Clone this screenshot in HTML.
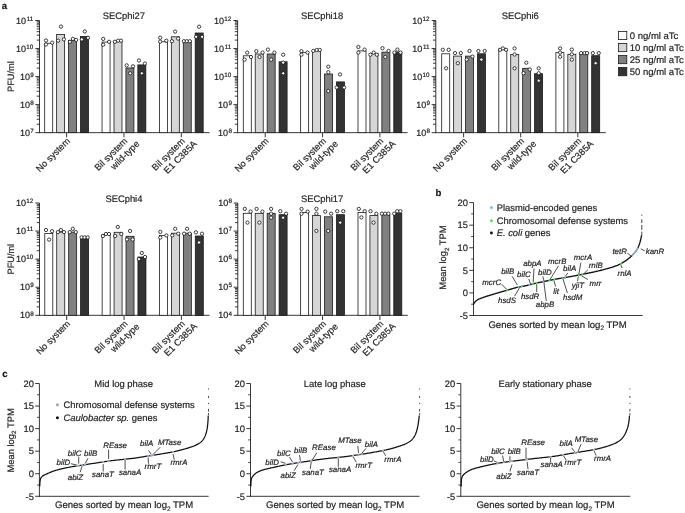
<!DOCTYPE html>
<html><head><meta charset="utf-8"><style>
html,body{margin:0;padding:0;background:#fff;}
body{width:685px;height:513px;overflow:hidden;}
svg text{stroke:#2a2a2a;stroke-width:0.2px;}
svg{display:block;will-change:transform;text-rendering:geometricPrecision;font-family:"Liberation Sans", sans-serif;}
</style></head><body>
<svg width="685" height="513" viewBox="0 0 685 513">
<rect width="685" height="513" fill="#fff"/>
<text x="123.90" y="19.10" font-size="9.4" text-anchor="middle" font-style="normal" font-weight="normal" fill="#222" >SECphi27</text>
<line x1="39.50" y1="20.50" x2="39.50" y2="133.10" stroke="#222" stroke-width="0.9"/>
<line x1="35.30" y1="20.50" x2="39.50" y2="20.50" stroke="#222" stroke-width="0.9"/>
<text x="26.02" y="23.50" font-size="9" text-anchor="end" fill="#222">10</text>
<text x="33.20" y="20.70" font-size="6.3" text-anchor="end" fill="#222">11</text>
<line x1="36.70" y1="40.10" x2="39.50" y2="40.10" stroke="#222" stroke-width="0.9"/>
<line x1="36.70" y1="35.16" x2="39.50" y2="35.16" stroke="#222" stroke-width="0.9"/>
<line x1="36.70" y1="31.66" x2="39.50" y2="31.66" stroke="#222" stroke-width="0.9"/>
<line x1="36.70" y1="28.94" x2="39.50" y2="28.94" stroke="#222" stroke-width="0.9"/>
<line x1="36.70" y1="26.72" x2="39.50" y2="26.72" stroke="#222" stroke-width="0.9"/>
<line x1="36.70" y1="24.84" x2="39.50" y2="24.84" stroke="#222" stroke-width="0.9"/>
<line x1="36.70" y1="23.22" x2="39.50" y2="23.22" stroke="#222" stroke-width="0.9"/>
<line x1="36.70" y1="21.78" x2="39.50" y2="21.78" stroke="#222" stroke-width="0.9"/>
<line x1="35.30" y1="48.54" x2="39.50" y2="48.54" stroke="#222" stroke-width="0.9"/>
<text x="26.02" y="51.54" font-size="9" text-anchor="end" fill="#222">10</text>
<text x="33.20" y="48.74" font-size="6.3" text-anchor="end" fill="#222">10</text>
<line x1="36.70" y1="68.13" x2="39.50" y2="68.13" stroke="#222" stroke-width="0.9"/>
<line x1="36.70" y1="63.20" x2="39.50" y2="63.20" stroke="#222" stroke-width="0.9"/>
<line x1="36.70" y1="59.69" x2="39.50" y2="59.69" stroke="#222" stroke-width="0.9"/>
<line x1="36.70" y1="56.98" x2="39.50" y2="56.98" stroke="#222" stroke-width="0.9"/>
<line x1="36.70" y1="54.76" x2="39.50" y2="54.76" stroke="#222" stroke-width="0.9"/>
<line x1="36.70" y1="52.88" x2="39.50" y2="52.88" stroke="#222" stroke-width="0.9"/>
<line x1="36.70" y1="51.25" x2="39.50" y2="51.25" stroke="#222" stroke-width="0.9"/>
<line x1="36.70" y1="49.82" x2="39.50" y2="49.82" stroke="#222" stroke-width="0.9"/>
<line x1="35.30" y1="76.58" x2="39.50" y2="76.58" stroke="#222" stroke-width="0.9"/>
<text x="29.91" y="79.58" font-size="9" text-anchor="end" fill="#222">10</text>
<text x="33.80" y="76.78" font-size="6.3" text-anchor="end" fill="#222">9</text>
<line x1="36.70" y1="96.17" x2="39.50" y2="96.17" stroke="#222" stroke-width="0.9"/>
<line x1="36.70" y1="91.24" x2="39.50" y2="91.24" stroke="#222" stroke-width="0.9"/>
<line x1="36.70" y1="87.73" x2="39.50" y2="87.73" stroke="#222" stroke-width="0.9"/>
<line x1="36.70" y1="85.02" x2="39.50" y2="85.02" stroke="#222" stroke-width="0.9"/>
<line x1="36.70" y1="82.80" x2="39.50" y2="82.80" stroke="#222" stroke-width="0.9"/>
<line x1="36.70" y1="80.92" x2="39.50" y2="80.92" stroke="#222" stroke-width="0.9"/>
<line x1="36.70" y1="79.29" x2="39.50" y2="79.29" stroke="#222" stroke-width="0.9"/>
<line x1="36.70" y1="77.86" x2="39.50" y2="77.86" stroke="#222" stroke-width="0.9"/>
<line x1="35.30" y1="104.61" x2="39.50" y2="104.61" stroke="#222" stroke-width="0.9"/>
<text x="29.91" y="107.61" font-size="9" text-anchor="end" fill="#222">10</text>
<text x="33.80" y="104.81" font-size="6.3" text-anchor="end" fill="#222">8</text>
<line x1="36.70" y1="124.21" x2="39.50" y2="124.21" stroke="#222" stroke-width="0.9"/>
<line x1="36.70" y1="119.27" x2="39.50" y2="119.27" stroke="#222" stroke-width="0.9"/>
<line x1="36.70" y1="115.77" x2="39.50" y2="115.77" stroke="#222" stroke-width="0.9"/>
<line x1="36.70" y1="113.05" x2="39.50" y2="113.05" stroke="#222" stroke-width="0.9"/>
<line x1="36.70" y1="110.83" x2="39.50" y2="110.83" stroke="#222" stroke-width="0.9"/>
<line x1="36.70" y1="108.96" x2="39.50" y2="108.96" stroke="#222" stroke-width="0.9"/>
<line x1="36.70" y1="107.33" x2="39.50" y2="107.33" stroke="#222" stroke-width="0.9"/>
<line x1="36.70" y1="105.90" x2="39.50" y2="105.90" stroke="#222" stroke-width="0.9"/>
<line x1="35.30" y1="132.65" x2="39.50" y2="132.65" stroke="#222" stroke-width="0.9"/>
<text x="29.91" y="135.65" font-size="9" text-anchor="end" fill="#222">10</text>
<text x="33.80" y="132.85" font-size="6.3" text-anchor="end" fill="#222">7</text>
<line x1="39.05" y1="132.65" x2="209.50" y2="132.65" stroke="#222" stroke-width="0.9"/>
<rect x="44.70" y="43.30" width="8.0" height="89.35" fill="#ffffff" stroke="#1a1a1a" stroke-width="0.8"/>
<rect x="56.63" y="34.50" width="8.0" height="98.15" fill="#d6d6d6" stroke="#1a1a1a" stroke-width="0.8"/>
<rect x="68.56" y="40.50" width="8.0" height="92.15" fill="#808080" stroke="#1a1a1a" stroke-width="0.8"/>
<rect x="80.49" y="36.50" width="8.0" height="96.15" fill="#333333" stroke="#1a1a1a" stroke-width="0.8"/>
<line x1="66.60" y1="132.65" x2="66.60" y2="137.35" stroke="#222" stroke-width="0.9"/>
<rect x="102.05" y="42.10" width="8.0" height="90.55" fill="#ffffff" stroke="#1a1a1a" stroke-width="0.8"/>
<rect x="113.98" y="41.20" width="8.0" height="91.45" fill="#d6d6d6" stroke="#1a1a1a" stroke-width="0.8"/>
<rect x="125.91" y="68.00" width="8.0" height="64.65" fill="#808080" stroke="#1a1a1a" stroke-width="0.8"/>
<rect x="137.84" y="64.90" width="8.0" height="67.75" fill="#333333" stroke="#1a1a1a" stroke-width="0.8"/>
<line x1="123.95" y1="132.65" x2="123.95" y2="137.35" stroke="#222" stroke-width="0.9"/>
<rect x="159.40" y="41.80" width="8.0" height="90.85" fill="#ffffff" stroke="#1a1a1a" stroke-width="0.8"/>
<rect x="171.33" y="36.80" width="8.0" height="95.85" fill="#d6d6d6" stroke="#1a1a1a" stroke-width="0.8"/>
<rect x="183.26" y="41.20" width="8.0" height="91.45" fill="#808080" stroke="#1a1a1a" stroke-width="0.8"/>
<rect x="195.19" y="33.00" width="8.0" height="99.65" fill="#333333" stroke="#1a1a1a" stroke-width="0.8"/>
<line x1="181.30" y1="132.65" x2="181.30" y2="137.35" stroke="#222" stroke-width="0.9"/>
<circle cx="46.00" cy="40.50" r="1.65" fill="#fff" stroke="#111" stroke-width="0.8"/>
<circle cx="46.00" cy="44.50" r="1.65" fill="#fff" stroke="#111" stroke-width="0.8"/>
<circle cx="52.20" cy="42.70" r="1.65" fill="#fff" stroke="#111" stroke-width="0.8"/>
<circle cx="61.00" cy="26.60" r="1.65" fill="#fff" stroke="#111" stroke-width="0.8"/>
<circle cx="58.10" cy="40.70" r="1.65" fill="#fff" stroke="#111" stroke-width="0.8"/>
<circle cx="63.90" cy="39.40" r="1.65" fill="#fff" stroke="#111" stroke-width="0.8"/>
<circle cx="69.90" cy="41.80" r="1.65" fill="#fff" stroke="#111" stroke-width="0.8"/>
<circle cx="72.90" cy="38.90" r="1.65" fill="#fff" stroke="#111" stroke-width="0.8"/>
<circle cx="76.10" cy="39.90" r="1.65" fill="#fff" stroke="#111" stroke-width="0.8"/>
<circle cx="84.80" cy="31.50" r="1.65" fill="#fff" stroke="#111" stroke-width="0.8"/>
<circle cx="81.80" cy="39.40" r="1.65" fill="#fff" stroke="#111" stroke-width="0.8"/>
<circle cx="88.00" cy="37.80" r="1.65" fill="#fff" stroke="#111" stroke-width="0.8"/>
<circle cx="103.20" cy="38.90" r="1.65" fill="#fff" stroke="#111" stroke-width="0.8"/>
<circle cx="103.20" cy="44.70" r="1.65" fill="#fff" stroke="#111" stroke-width="0.8"/>
<circle cx="109.10" cy="41.80" r="1.65" fill="#fff" stroke="#111" stroke-width="0.8"/>
<circle cx="114.90" cy="41.80" r="1.65" fill="#fff" stroke="#111" stroke-width="0.8"/>
<circle cx="118.10" cy="40.70" r="1.65" fill="#fff" stroke="#111" stroke-width="0.8"/>
<circle cx="121.00" cy="40.70" r="1.65" fill="#fff" stroke="#111" stroke-width="0.8"/>
<circle cx="126.70" cy="65.40" r="1.65" fill="#fff" stroke="#111" stroke-width="0.8"/>
<circle cx="130.20" cy="73.30" r="1.65" fill="#fff" stroke="#111" stroke-width="0.8"/>
<circle cx="133.00" cy="66.30" r="1.65" fill="#fff" stroke="#111" stroke-width="0.8"/>
<circle cx="139.00" cy="60.50" r="1.65" fill="#fff" stroke="#111" stroke-width="0.8"/>
<circle cx="141.80" cy="73.30" r="1.65" fill="#fff" stroke="#111" stroke-width="0.8"/>
<circle cx="144.90" cy="63.50" r="1.65" fill="#fff" stroke="#111" stroke-width="0.8"/>
<circle cx="160.20" cy="37.70" r="1.65" fill="#fff" stroke="#111" stroke-width="0.8"/>
<circle cx="160.20" cy="41.60" r="1.65" fill="#fff" stroke="#111" stroke-width="0.8"/>
<circle cx="166.30" cy="40.70" r="1.65" fill="#fff" stroke="#111" stroke-width="0.8"/>
<circle cx="175.10" cy="31.60" r="1.65" fill="#fff" stroke="#111" stroke-width="0.8"/>
<circle cx="171.90" cy="41.20" r="1.65" fill="#fff" stroke="#111" stroke-width="0.8"/>
<circle cx="178.10" cy="38.60" r="1.65" fill="#fff" stroke="#111" stroke-width="0.8"/>
<circle cx="183.90" cy="41.20" r="1.65" fill="#fff" stroke="#111" stroke-width="0.8"/>
<circle cx="186.80" cy="41.20" r="1.65" fill="#fff" stroke="#111" stroke-width="0.8"/>
<circle cx="189.80" cy="41.20" r="1.65" fill="#fff" stroke="#111" stroke-width="0.8"/>
<circle cx="199.10" cy="26.70" r="1.65" fill="#fff" stroke="#111" stroke-width="0.8"/>
<circle cx="196.10" cy="36.80" r="1.65" fill="#fff" stroke="#111" stroke-width="0.8"/>
<circle cx="202.10" cy="36.80" r="1.65" fill="#fff" stroke="#111" stroke-width="0.8"/>
<text transform="translate(70.70,141.55) rotate(-45)" font-size="9.25" text-anchor="end" fill="#222">No system</text>
<text transform="translate(128.05,141.55) rotate(-45)" font-size="9.25" text-anchor="end" fill="#222">Bil system</text>
<text transform="translate(140.05,144.35) rotate(-45)" font-size="9.25" text-anchor="end" fill="#222">wild-type</text>
<text transform="translate(185.40,141.55) rotate(-45)" font-size="9.25" text-anchor="end" fill="#222">Bil system</text>
<text transform="translate(197.40,144.35) rotate(-45)" font-size="9.25" text-anchor="end" fill="#222">E1 C385A</text>
<text transform="translate(13.60,76.58) rotate(-90)" font-size="9.2" text-anchor="middle" fill="#222">PFU/ml</text>
<text x="322.00" y="19.10" font-size="9.4" text-anchor="middle" font-style="normal" font-weight="normal" fill="#222" >SECphi18</text>
<line x1="237.60" y1="20.50" x2="237.60" y2="133.10" stroke="#222" stroke-width="0.9"/>
<line x1="233.40" y1="20.50" x2="237.60" y2="20.50" stroke="#222" stroke-width="0.9"/>
<text x="224.12" y="23.50" font-size="9" text-anchor="end" fill="#222">10</text>
<text x="231.30" y="20.70" font-size="6.3" text-anchor="end" fill="#222">12</text>
<line x1="234.80" y1="40.10" x2="237.60" y2="40.10" stroke="#222" stroke-width="0.9"/>
<line x1="234.80" y1="35.16" x2="237.60" y2="35.16" stroke="#222" stroke-width="0.9"/>
<line x1="234.80" y1="31.66" x2="237.60" y2="31.66" stroke="#222" stroke-width="0.9"/>
<line x1="234.80" y1="28.94" x2="237.60" y2="28.94" stroke="#222" stroke-width="0.9"/>
<line x1="234.80" y1="26.72" x2="237.60" y2="26.72" stroke="#222" stroke-width="0.9"/>
<line x1="234.80" y1="24.84" x2="237.60" y2="24.84" stroke="#222" stroke-width="0.9"/>
<line x1="234.80" y1="23.22" x2="237.60" y2="23.22" stroke="#222" stroke-width="0.9"/>
<line x1="234.80" y1="21.78" x2="237.60" y2="21.78" stroke="#222" stroke-width="0.9"/>
<line x1="233.40" y1="48.54" x2="237.60" y2="48.54" stroke="#222" stroke-width="0.9"/>
<text x="224.12" y="51.54" font-size="9" text-anchor="end" fill="#222">10</text>
<text x="231.30" y="48.74" font-size="6.3" text-anchor="end" fill="#222">11</text>
<line x1="234.80" y1="68.13" x2="237.60" y2="68.13" stroke="#222" stroke-width="0.9"/>
<line x1="234.80" y1="63.20" x2="237.60" y2="63.20" stroke="#222" stroke-width="0.9"/>
<line x1="234.80" y1="59.69" x2="237.60" y2="59.69" stroke="#222" stroke-width="0.9"/>
<line x1="234.80" y1="56.98" x2="237.60" y2="56.98" stroke="#222" stroke-width="0.9"/>
<line x1="234.80" y1="54.76" x2="237.60" y2="54.76" stroke="#222" stroke-width="0.9"/>
<line x1="234.80" y1="52.88" x2="237.60" y2="52.88" stroke="#222" stroke-width="0.9"/>
<line x1="234.80" y1="51.25" x2="237.60" y2="51.25" stroke="#222" stroke-width="0.9"/>
<line x1="234.80" y1="49.82" x2="237.60" y2="49.82" stroke="#222" stroke-width="0.9"/>
<line x1="233.40" y1="76.58" x2="237.60" y2="76.58" stroke="#222" stroke-width="0.9"/>
<text x="224.12" y="79.58" font-size="9" text-anchor="end" fill="#222">10</text>
<text x="231.30" y="76.78" font-size="6.3" text-anchor="end" fill="#222">10</text>
<line x1="234.80" y1="96.17" x2="237.60" y2="96.17" stroke="#222" stroke-width="0.9"/>
<line x1="234.80" y1="91.24" x2="237.60" y2="91.24" stroke="#222" stroke-width="0.9"/>
<line x1="234.80" y1="87.73" x2="237.60" y2="87.73" stroke="#222" stroke-width="0.9"/>
<line x1="234.80" y1="85.02" x2="237.60" y2="85.02" stroke="#222" stroke-width="0.9"/>
<line x1="234.80" y1="82.80" x2="237.60" y2="82.80" stroke="#222" stroke-width="0.9"/>
<line x1="234.80" y1="80.92" x2="237.60" y2="80.92" stroke="#222" stroke-width="0.9"/>
<line x1="234.80" y1="79.29" x2="237.60" y2="79.29" stroke="#222" stroke-width="0.9"/>
<line x1="234.80" y1="77.86" x2="237.60" y2="77.86" stroke="#222" stroke-width="0.9"/>
<line x1="233.40" y1="104.61" x2="237.60" y2="104.61" stroke="#222" stroke-width="0.9"/>
<text x="228.01" y="107.61" font-size="9" text-anchor="end" fill="#222">10</text>
<text x="231.90" y="104.81" font-size="6.3" text-anchor="end" fill="#222">9</text>
<line x1="234.80" y1="124.21" x2="237.60" y2="124.21" stroke="#222" stroke-width="0.9"/>
<line x1="234.80" y1="119.27" x2="237.60" y2="119.27" stroke="#222" stroke-width="0.9"/>
<line x1="234.80" y1="115.77" x2="237.60" y2="115.77" stroke="#222" stroke-width="0.9"/>
<line x1="234.80" y1="113.05" x2="237.60" y2="113.05" stroke="#222" stroke-width="0.9"/>
<line x1="234.80" y1="110.83" x2="237.60" y2="110.83" stroke="#222" stroke-width="0.9"/>
<line x1="234.80" y1="108.96" x2="237.60" y2="108.96" stroke="#222" stroke-width="0.9"/>
<line x1="234.80" y1="107.33" x2="237.60" y2="107.33" stroke="#222" stroke-width="0.9"/>
<line x1="234.80" y1="105.90" x2="237.60" y2="105.90" stroke="#222" stroke-width="0.9"/>
<line x1="233.40" y1="132.65" x2="237.60" y2="132.65" stroke="#222" stroke-width="0.9"/>
<text x="228.01" y="135.65" font-size="9" text-anchor="end" fill="#222">10</text>
<text x="231.90" y="132.85" font-size="6.3" text-anchor="end" fill="#222">8</text>
<line x1="237.15" y1="132.65" x2="407.60" y2="132.65" stroke="#222" stroke-width="0.9"/>
<rect x="243.30" y="55.80" width="8.0" height="76.85" fill="#ffffff" stroke="#1a1a1a" stroke-width="0.8"/>
<rect x="255.23" y="54.00" width="8.0" height="78.65" fill="#d6d6d6" stroke="#1a1a1a" stroke-width="0.8"/>
<rect x="267.16" y="54.00" width="8.0" height="78.65" fill="#808080" stroke="#1a1a1a" stroke-width="0.8"/>
<rect x="279.09" y="61.80" width="8.0" height="70.85" fill="#333333" stroke="#1a1a1a" stroke-width="0.8"/>
<line x1="265.20" y1="132.65" x2="265.20" y2="137.35" stroke="#222" stroke-width="0.9"/>
<rect x="300.65" y="52.60" width="8.0" height="80.05" fill="#ffffff" stroke="#1a1a1a" stroke-width="0.8"/>
<rect x="312.58" y="50.90" width="8.0" height="81.75" fill="#d6d6d6" stroke="#1a1a1a" stroke-width="0.8"/>
<rect x="324.51" y="74.00" width="8.0" height="58.65" fill="#808080" stroke="#1a1a1a" stroke-width="0.8"/>
<rect x="336.44" y="81.90" width="8.0" height="50.75" fill="#333333" stroke="#1a1a1a" stroke-width="0.8"/>
<line x1="322.55" y1="132.65" x2="322.55" y2="137.35" stroke="#222" stroke-width="0.9"/>
<rect x="358.00" y="50.90" width="8.0" height="81.75" fill="#ffffff" stroke="#1a1a1a" stroke-width="0.8"/>
<rect x="369.93" y="53.50" width="8.0" height="79.15" fill="#d6d6d6" stroke="#1a1a1a" stroke-width="0.8"/>
<rect x="381.86" y="52.10" width="8.0" height="80.55" fill="#808080" stroke="#1a1a1a" stroke-width="0.8"/>
<rect x="393.79" y="52.10" width="8.0" height="80.55" fill="#333333" stroke="#1a1a1a" stroke-width="0.8"/>
<line x1="379.90" y1="132.65" x2="379.90" y2="137.35" stroke="#222" stroke-width="0.9"/>
<circle cx="244.60" cy="59.60" r="1.65" fill="#fff" stroke="#111" stroke-width="0.8"/>
<circle cx="247.20" cy="52.60" r="1.65" fill="#fff" stroke="#111" stroke-width="0.8"/>
<circle cx="251.00" cy="57.00" r="1.65" fill="#fff" stroke="#111" stroke-width="0.8"/>
<circle cx="256.30" cy="51.20" r="1.65" fill="#fff" stroke="#111" stroke-width="0.8"/>
<circle cx="259.50" cy="57.00" r="1.65" fill="#fff" stroke="#111" stroke-width="0.8"/>
<circle cx="262.60" cy="52.60" r="1.65" fill="#fff" stroke="#111" stroke-width="0.8"/>
<circle cx="267.90" cy="49.60" r="1.65" fill="#fff" stroke="#111" stroke-width="0.8"/>
<circle cx="271.20" cy="59.60" r="1.65" fill="#fff" stroke="#111" stroke-width="0.8"/>
<circle cx="274.40" cy="52.60" r="1.65" fill="#fff" stroke="#111" stroke-width="0.8"/>
<circle cx="283.20" cy="54.70" r="1.65" fill="#fff" stroke="#111" stroke-width="0.8"/>
<circle cx="283.20" cy="62.60" r="1.65" fill="#fff" stroke="#111" stroke-width="0.8"/>
<circle cx="283.20" cy="73.30" r="1.65" fill="#fff" stroke="#111" stroke-width="0.8"/>
<circle cx="301.40" cy="51.20" r="1.65" fill="#fff" stroke="#111" stroke-width="0.8"/>
<circle cx="301.40" cy="54.70" r="1.65" fill="#fff" stroke="#111" stroke-width="0.8"/>
<circle cx="307.50" cy="52.60" r="1.65" fill="#fff" stroke="#111" stroke-width="0.8"/>
<circle cx="313.30" cy="50.90" r="1.65" fill="#fff" stroke="#111" stroke-width="0.8"/>
<circle cx="316.70" cy="50.00" r="1.65" fill="#fff" stroke="#111" stroke-width="0.8"/>
<circle cx="319.80" cy="50.00" r="1.65" fill="#fff" stroke="#111" stroke-width="0.8"/>
<circle cx="328.30" cy="66.70" r="1.65" fill="#fff" stroke="#111" stroke-width="0.8"/>
<circle cx="328.30" cy="72.20" r="1.65" fill="#fff" stroke="#111" stroke-width="0.8"/>
<circle cx="328.30" cy="91.10" r="1.65" fill="#fff" stroke="#111" stroke-width="0.8"/>
<circle cx="340.00" cy="74.40" r="1.65" fill="#fff" stroke="#111" stroke-width="0.8"/>
<circle cx="336.70" cy="87.50" r="1.65" fill="#fff" stroke="#111" stroke-width="0.8"/>
<circle cx="344.20" cy="87.50" r="1.65" fill="#fff" stroke="#111" stroke-width="0.8"/>
<circle cx="358.40" cy="47.00" r="1.65" fill="#fff" stroke="#111" stroke-width="0.8"/>
<circle cx="358.40" cy="52.60" r="1.65" fill="#fff" stroke="#111" stroke-width="0.8"/>
<circle cx="364.60" cy="49.60" r="1.65" fill="#fff" stroke="#111" stroke-width="0.8"/>
<circle cx="370.40" cy="54.70" r="1.65" fill="#fff" stroke="#111" stroke-width="0.8"/>
<circle cx="373.70" cy="52.60" r="1.65" fill="#fff" stroke="#111" stroke-width="0.8"/>
<circle cx="376.80" cy="54.70" r="1.65" fill="#fff" stroke="#111" stroke-width="0.8"/>
<circle cx="382.50" cy="48.20" r="1.65" fill="#fff" stroke="#111" stroke-width="0.8"/>
<circle cx="385.30" cy="57.00" r="1.65" fill="#fff" stroke="#111" stroke-width="0.8"/>
<circle cx="388.60" cy="50.90" r="1.65" fill="#fff" stroke="#111" stroke-width="0.8"/>
<circle cx="394.40" cy="52.60" r="1.65" fill="#fff" stroke="#111" stroke-width="0.8"/>
<circle cx="397.40" cy="49.60" r="1.65" fill="#fff" stroke="#111" stroke-width="0.8"/>
<circle cx="400.50" cy="52.60" r="1.65" fill="#fff" stroke="#111" stroke-width="0.8"/>
<text transform="translate(269.30,141.55) rotate(-45)" font-size="9.25" text-anchor="end" fill="#222">No system</text>
<text transform="translate(326.65,141.55) rotate(-45)" font-size="9.25" text-anchor="end" fill="#222">Bil system</text>
<text transform="translate(338.65,144.35) rotate(-45)" font-size="9.25" text-anchor="end" fill="#222">wild-type</text>
<text transform="translate(384.00,141.55) rotate(-45)" font-size="9.25" text-anchor="end" fill="#222">Bil system</text>
<text transform="translate(396.00,144.35) rotate(-45)" font-size="9.25" text-anchor="end" fill="#222">E1 C385A</text>
<text x="520.20" y="19.10" font-size="9.4" text-anchor="middle" font-style="normal" font-weight="normal" fill="#222" >SECphi6</text>
<line x1="435.80" y1="20.50" x2="435.80" y2="133.10" stroke="#222" stroke-width="0.9"/>
<line x1="431.60" y1="20.50" x2="435.80" y2="20.50" stroke="#222" stroke-width="0.9"/>
<text x="422.32" y="23.50" font-size="9" text-anchor="end" fill="#222">10</text>
<text x="429.50" y="20.70" font-size="6.3" text-anchor="end" fill="#222">12</text>
<line x1="433.00" y1="40.10" x2="435.80" y2="40.10" stroke="#222" stroke-width="0.9"/>
<line x1="433.00" y1="35.16" x2="435.80" y2="35.16" stroke="#222" stroke-width="0.9"/>
<line x1="433.00" y1="31.66" x2="435.80" y2="31.66" stroke="#222" stroke-width="0.9"/>
<line x1="433.00" y1="28.94" x2="435.80" y2="28.94" stroke="#222" stroke-width="0.9"/>
<line x1="433.00" y1="26.72" x2="435.80" y2="26.72" stroke="#222" stroke-width="0.9"/>
<line x1="433.00" y1="24.84" x2="435.80" y2="24.84" stroke="#222" stroke-width="0.9"/>
<line x1="433.00" y1="23.22" x2="435.80" y2="23.22" stroke="#222" stroke-width="0.9"/>
<line x1="433.00" y1="21.78" x2="435.80" y2="21.78" stroke="#222" stroke-width="0.9"/>
<line x1="431.60" y1="48.54" x2="435.80" y2="48.54" stroke="#222" stroke-width="0.9"/>
<text x="422.32" y="51.54" font-size="9" text-anchor="end" fill="#222">10</text>
<text x="429.50" y="48.74" font-size="6.3" text-anchor="end" fill="#222">11</text>
<line x1="433.00" y1="68.13" x2="435.80" y2="68.13" stroke="#222" stroke-width="0.9"/>
<line x1="433.00" y1="63.20" x2="435.80" y2="63.20" stroke="#222" stroke-width="0.9"/>
<line x1="433.00" y1="59.69" x2="435.80" y2="59.69" stroke="#222" stroke-width="0.9"/>
<line x1="433.00" y1="56.98" x2="435.80" y2="56.98" stroke="#222" stroke-width="0.9"/>
<line x1="433.00" y1="54.76" x2="435.80" y2="54.76" stroke="#222" stroke-width="0.9"/>
<line x1="433.00" y1="52.88" x2="435.80" y2="52.88" stroke="#222" stroke-width="0.9"/>
<line x1="433.00" y1="51.25" x2="435.80" y2="51.25" stroke="#222" stroke-width="0.9"/>
<line x1="433.00" y1="49.82" x2="435.80" y2="49.82" stroke="#222" stroke-width="0.9"/>
<line x1="431.60" y1="76.58" x2="435.80" y2="76.58" stroke="#222" stroke-width="0.9"/>
<text x="422.32" y="79.58" font-size="9" text-anchor="end" fill="#222">10</text>
<text x="429.50" y="76.78" font-size="6.3" text-anchor="end" fill="#222">10</text>
<line x1="433.00" y1="96.17" x2="435.80" y2="96.17" stroke="#222" stroke-width="0.9"/>
<line x1="433.00" y1="91.24" x2="435.80" y2="91.24" stroke="#222" stroke-width="0.9"/>
<line x1="433.00" y1="87.73" x2="435.80" y2="87.73" stroke="#222" stroke-width="0.9"/>
<line x1="433.00" y1="85.02" x2="435.80" y2="85.02" stroke="#222" stroke-width="0.9"/>
<line x1="433.00" y1="82.80" x2="435.80" y2="82.80" stroke="#222" stroke-width="0.9"/>
<line x1="433.00" y1="80.92" x2="435.80" y2="80.92" stroke="#222" stroke-width="0.9"/>
<line x1="433.00" y1="79.29" x2="435.80" y2="79.29" stroke="#222" stroke-width="0.9"/>
<line x1="433.00" y1="77.86" x2="435.80" y2="77.86" stroke="#222" stroke-width="0.9"/>
<line x1="431.60" y1="104.61" x2="435.80" y2="104.61" stroke="#222" stroke-width="0.9"/>
<text x="426.21" y="107.61" font-size="9" text-anchor="end" fill="#222">10</text>
<text x="430.10" y="104.81" font-size="6.3" text-anchor="end" fill="#222">9</text>
<line x1="433.00" y1="124.21" x2="435.80" y2="124.21" stroke="#222" stroke-width="0.9"/>
<line x1="433.00" y1="119.27" x2="435.80" y2="119.27" stroke="#222" stroke-width="0.9"/>
<line x1="433.00" y1="115.77" x2="435.80" y2="115.77" stroke="#222" stroke-width="0.9"/>
<line x1="433.00" y1="113.05" x2="435.80" y2="113.05" stroke="#222" stroke-width="0.9"/>
<line x1="433.00" y1="110.83" x2="435.80" y2="110.83" stroke="#222" stroke-width="0.9"/>
<line x1="433.00" y1="108.96" x2="435.80" y2="108.96" stroke="#222" stroke-width="0.9"/>
<line x1="433.00" y1="107.33" x2="435.80" y2="107.33" stroke="#222" stroke-width="0.9"/>
<line x1="433.00" y1="105.90" x2="435.80" y2="105.90" stroke="#222" stroke-width="0.9"/>
<line x1="431.60" y1="132.65" x2="435.80" y2="132.65" stroke="#222" stroke-width="0.9"/>
<text x="426.21" y="135.65" font-size="9" text-anchor="end" fill="#222">10</text>
<text x="430.10" y="132.85" font-size="6.3" text-anchor="end" fill="#222">8</text>
<line x1="435.35" y1="132.65" x2="605.80" y2="132.65" stroke="#222" stroke-width="0.9"/>
<rect x="441.70" y="53.80" width="8.0" height="78.85" fill="#ffffff" stroke="#1a1a1a" stroke-width="0.8"/>
<rect x="453.63" y="56.10" width="8.0" height="76.55" fill="#d6d6d6" stroke="#1a1a1a" stroke-width="0.8"/>
<rect x="465.56" y="56.10" width="8.0" height="76.55" fill="#808080" stroke="#1a1a1a" stroke-width="0.8"/>
<rect x="477.49" y="53.80" width="8.0" height="78.85" fill="#333333" stroke="#1a1a1a" stroke-width="0.8"/>
<line x1="463.60" y1="132.65" x2="463.60" y2="137.35" stroke="#222" stroke-width="0.9"/>
<rect x="498.80" y="49.10" width="8.0" height="83.55" fill="#ffffff" stroke="#1a1a1a" stroke-width="0.8"/>
<rect x="510.73" y="54.50" width="8.0" height="78.15" fill="#d6d6d6" stroke="#1a1a1a" stroke-width="0.8"/>
<rect x="522.66" y="68.30" width="8.0" height="64.35" fill="#808080" stroke="#1a1a1a" stroke-width="0.8"/>
<rect x="534.59" y="73.70" width="8.0" height="58.95" fill="#333333" stroke="#1a1a1a" stroke-width="0.8"/>
<line x1="520.70" y1="132.65" x2="520.70" y2="137.35" stroke="#222" stroke-width="0.9"/>
<rect x="555.90" y="52.60" width="8.0" height="80.05" fill="#ffffff" stroke="#1a1a1a" stroke-width="0.8"/>
<rect x="567.83" y="54.30" width="8.0" height="78.35" fill="#d6d6d6" stroke="#1a1a1a" stroke-width="0.8"/>
<rect x="579.76" y="53.80" width="8.0" height="78.85" fill="#808080" stroke="#1a1a1a" stroke-width="0.8"/>
<rect x="591.69" y="55.70" width="8.0" height="76.95" fill="#333333" stroke="#1a1a1a" stroke-width="0.8"/>
<line x1="577.80" y1="132.65" x2="577.80" y2="137.35" stroke="#222" stroke-width="0.9"/>
<circle cx="442.80" cy="49.80" r="1.65" fill="#fff" stroke="#111" stroke-width="0.8"/>
<circle cx="448.70" cy="49.80" r="1.65" fill="#fff" stroke="#111" stroke-width="0.8"/>
<circle cx="446.10" cy="68.30" r="1.65" fill="#fff" stroke="#111" stroke-width="0.8"/>
<circle cx="455.00" cy="53.10" r="1.65" fill="#fff" stroke="#111" stroke-width="0.8"/>
<circle cx="460.80" cy="53.10" r="1.65" fill="#fff" stroke="#111" stroke-width="0.8"/>
<circle cx="457.80" cy="63.20" r="1.65" fill="#fff" stroke="#111" stroke-width="0.8"/>
<circle cx="466.70" cy="59.60" r="1.65" fill="#fff" stroke="#111" stroke-width="0.8"/>
<circle cx="469.50" cy="51.00" r="1.65" fill="#fff" stroke="#111" stroke-width="0.8"/>
<circle cx="472.50" cy="56.60" r="1.65" fill="#fff" stroke="#111" stroke-width="0.8"/>
<circle cx="478.40" cy="51.00" r="1.65" fill="#fff" stroke="#111" stroke-width="0.8"/>
<circle cx="484.70" cy="51.00" r="1.65" fill="#fff" stroke="#111" stroke-width="0.8"/>
<circle cx="481.40" cy="59.60" r="1.65" fill="#fff" stroke="#111" stroke-width="0.8"/>
<circle cx="500.10" cy="49.80" r="1.65" fill="#fff" stroke="#111" stroke-width="0.8"/>
<circle cx="502.90" cy="48.40" r="1.65" fill="#fff" stroke="#111" stroke-width="0.8"/>
<circle cx="506.00" cy="49.80" r="1.65" fill="#fff" stroke="#111" stroke-width="0.8"/>
<circle cx="514.60" cy="48.40" r="1.65" fill="#fff" stroke="#111" stroke-width="0.8"/>
<circle cx="514.60" cy="54.50" r="1.65" fill="#fff" stroke="#111" stroke-width="0.8"/>
<circle cx="514.60" cy="68.30" r="1.65" fill="#fff" stroke="#111" stroke-width="0.8"/>
<circle cx="526.30" cy="62.70" r="1.65" fill="#fff" stroke="#111" stroke-width="0.8"/>
<circle cx="523.50" cy="73.20" r="1.65" fill="#fff" stroke="#111" stroke-width="0.8"/>
<circle cx="529.80" cy="69.50" r="1.65" fill="#fff" stroke="#111" stroke-width="0.8"/>
<circle cx="538.70" cy="68.30" r="1.65" fill="#fff" stroke="#111" stroke-width="0.8"/>
<circle cx="538.70" cy="73.20" r="1.65" fill="#fff" stroke="#111" stroke-width="0.8"/>
<circle cx="538.70" cy="80.70" r="1.65" fill="#fff" stroke="#111" stroke-width="0.8"/>
<circle cx="560.10" cy="48.40" r="1.65" fill="#fff" stroke="#111" stroke-width="0.8"/>
<circle cx="560.10" cy="52.60" r="1.65" fill="#fff" stroke="#111" stroke-width="0.8"/>
<circle cx="560.10" cy="56.80" r="1.65" fill="#fff" stroke="#111" stroke-width="0.8"/>
<circle cx="571.80" cy="49.60" r="1.65" fill="#fff" stroke="#111" stroke-width="0.8"/>
<circle cx="571.80" cy="54.30" r="1.65" fill="#fff" stroke="#111" stroke-width="0.8"/>
<circle cx="571.80" cy="59.60" r="1.65" fill="#fff" stroke="#111" stroke-width="0.8"/>
<circle cx="581.10" cy="53.10" r="1.65" fill="#fff" stroke="#111" stroke-width="0.8"/>
<circle cx="584.60" cy="53.10" r="1.65" fill="#fff" stroke="#111" stroke-width="0.8"/>
<circle cx="587.00" cy="53.10" r="1.65" fill="#fff" stroke="#111" stroke-width="0.8"/>
<circle cx="592.80" cy="53.10" r="1.65" fill="#fff" stroke="#111" stroke-width="0.8"/>
<circle cx="598.70" cy="53.10" r="1.65" fill="#fff" stroke="#111" stroke-width="0.8"/>
<circle cx="595.60" cy="63.20" r="1.65" fill="#fff" stroke="#111" stroke-width="0.8"/>
<text transform="translate(467.70,141.55) rotate(-45)" font-size="9.25" text-anchor="end" fill="#222">No system</text>
<text transform="translate(524.80,141.55) rotate(-45)" font-size="9.25" text-anchor="end" fill="#222">Bil system</text>
<text transform="translate(536.80,144.35) rotate(-45)" font-size="9.25" text-anchor="end" fill="#222">wild-type</text>
<text transform="translate(581.90,141.55) rotate(-45)" font-size="9.25" text-anchor="end" fill="#222">Bil system</text>
<text transform="translate(593.90,144.35) rotate(-45)" font-size="9.25" text-anchor="end" fill="#222">E1 C385A</text>
<text x="123.90" y="202.30" font-size="9.4" text-anchor="middle" font-style="normal" font-weight="normal" fill="#222" >SECphi4</text>
<line x1="39.50" y1="203.00" x2="39.50" y2="315.75" stroke="#222" stroke-width="0.9"/>
<line x1="35.30" y1="203.00" x2="39.50" y2="203.00" stroke="#222" stroke-width="0.9"/>
<text x="26.02" y="206.00" font-size="9" text-anchor="end" fill="#222">10</text>
<text x="33.20" y="203.20" font-size="6.3" text-anchor="end" fill="#222">12</text>
<line x1="36.70" y1="222.62" x2="39.50" y2="222.62" stroke="#222" stroke-width="0.9"/>
<line x1="36.70" y1="217.68" x2="39.50" y2="217.68" stroke="#222" stroke-width="0.9"/>
<line x1="36.70" y1="214.17" x2="39.50" y2="214.17" stroke="#222" stroke-width="0.9"/>
<line x1="36.70" y1="211.45" x2="39.50" y2="211.45" stroke="#222" stroke-width="0.9"/>
<line x1="36.70" y1="209.23" x2="39.50" y2="209.23" stroke="#222" stroke-width="0.9"/>
<line x1="36.70" y1="207.35" x2="39.50" y2="207.35" stroke="#222" stroke-width="0.9"/>
<line x1="36.70" y1="205.72" x2="39.50" y2="205.72" stroke="#222" stroke-width="0.9"/>
<line x1="36.70" y1="204.28" x2="39.50" y2="204.28" stroke="#222" stroke-width="0.9"/>
<line x1="35.30" y1="231.07" x2="39.50" y2="231.07" stroke="#222" stroke-width="0.9"/>
<text x="26.02" y="234.07" font-size="9" text-anchor="end" fill="#222">10</text>
<text x="33.20" y="231.27" font-size="6.3" text-anchor="end" fill="#222">11</text>
<line x1="36.70" y1="250.70" x2="39.50" y2="250.70" stroke="#222" stroke-width="0.9"/>
<line x1="36.70" y1="245.75" x2="39.50" y2="245.75" stroke="#222" stroke-width="0.9"/>
<line x1="36.70" y1="242.25" x2="39.50" y2="242.25" stroke="#222" stroke-width="0.9"/>
<line x1="36.70" y1="239.53" x2="39.50" y2="239.53" stroke="#222" stroke-width="0.9"/>
<line x1="36.70" y1="237.30" x2="39.50" y2="237.30" stroke="#222" stroke-width="0.9"/>
<line x1="36.70" y1="235.42" x2="39.50" y2="235.42" stroke="#222" stroke-width="0.9"/>
<line x1="36.70" y1="233.80" x2="39.50" y2="233.80" stroke="#222" stroke-width="0.9"/>
<line x1="36.70" y1="232.36" x2="39.50" y2="232.36" stroke="#222" stroke-width="0.9"/>
<line x1="35.30" y1="259.15" x2="39.50" y2="259.15" stroke="#222" stroke-width="0.9"/>
<text x="26.02" y="262.15" font-size="9" text-anchor="end" fill="#222">10</text>
<text x="33.20" y="259.35" font-size="6.3" text-anchor="end" fill="#222">10</text>
<line x1="36.70" y1="278.77" x2="39.50" y2="278.77" stroke="#222" stroke-width="0.9"/>
<line x1="36.70" y1="273.83" x2="39.50" y2="273.83" stroke="#222" stroke-width="0.9"/>
<line x1="36.70" y1="270.32" x2="39.50" y2="270.32" stroke="#222" stroke-width="0.9"/>
<line x1="36.70" y1="267.60" x2="39.50" y2="267.60" stroke="#222" stroke-width="0.9"/>
<line x1="36.70" y1="265.38" x2="39.50" y2="265.38" stroke="#222" stroke-width="0.9"/>
<line x1="36.70" y1="263.50" x2="39.50" y2="263.50" stroke="#222" stroke-width="0.9"/>
<line x1="36.70" y1="261.87" x2="39.50" y2="261.87" stroke="#222" stroke-width="0.9"/>
<line x1="36.70" y1="260.43" x2="39.50" y2="260.43" stroke="#222" stroke-width="0.9"/>
<line x1="35.30" y1="287.23" x2="39.50" y2="287.23" stroke="#222" stroke-width="0.9"/>
<text x="29.91" y="290.23" font-size="9" text-anchor="end" fill="#222">10</text>
<text x="33.80" y="287.43" font-size="6.3" text-anchor="end" fill="#222">9</text>
<line x1="36.70" y1="306.85" x2="39.50" y2="306.85" stroke="#222" stroke-width="0.9"/>
<line x1="36.70" y1="301.90" x2="39.50" y2="301.90" stroke="#222" stroke-width="0.9"/>
<line x1="36.70" y1="298.40" x2="39.50" y2="298.40" stroke="#222" stroke-width="0.9"/>
<line x1="36.70" y1="295.68" x2="39.50" y2="295.68" stroke="#222" stroke-width="0.9"/>
<line x1="36.70" y1="293.45" x2="39.50" y2="293.45" stroke="#222" stroke-width="0.9"/>
<line x1="36.70" y1="291.57" x2="39.50" y2="291.57" stroke="#222" stroke-width="0.9"/>
<line x1="36.70" y1="289.95" x2="39.50" y2="289.95" stroke="#222" stroke-width="0.9"/>
<line x1="36.70" y1="288.51" x2="39.50" y2="288.51" stroke="#222" stroke-width="0.9"/>
<line x1="35.30" y1="315.30" x2="39.50" y2="315.30" stroke="#222" stroke-width="0.9"/>
<text x="29.91" y="318.30" font-size="9" text-anchor="end" fill="#222">10</text>
<text x="33.80" y="315.50" font-size="6.3" text-anchor="end" fill="#222">8</text>
<line x1="39.05" y1="315.30" x2="209.50" y2="315.30" stroke="#222" stroke-width="0.9"/>
<rect x="44.80" y="233.50" width="8.0" height="81.80" fill="#ffffff" stroke="#1a1a1a" stroke-width="0.8"/>
<rect x="56.73" y="232.10" width="8.0" height="83.20" fill="#d6d6d6" stroke="#1a1a1a" stroke-width="0.8"/>
<rect x="68.66" y="232.10" width="8.0" height="83.20" fill="#808080" stroke="#1a1a1a" stroke-width="0.8"/>
<rect x="80.59" y="237.40" width="8.0" height="77.90" fill="#333333" stroke="#1a1a1a" stroke-width="0.8"/>
<line x1="66.70" y1="315.30" x2="66.70" y2="320.00" stroke="#222" stroke-width="0.9"/>
<rect x="102.15" y="234.60" width="8.0" height="80.70" fill="#ffffff" stroke="#1a1a1a" stroke-width="0.8"/>
<rect x="114.08" y="232.30" width="8.0" height="83.00" fill="#d6d6d6" stroke="#1a1a1a" stroke-width="0.8"/>
<rect x="126.01" y="236.30" width="8.0" height="79.00" fill="#808080" stroke="#1a1a1a" stroke-width="0.8"/>
<rect x="137.94" y="257.00" width="8.0" height="58.30" fill="#333333" stroke="#1a1a1a" stroke-width="0.8"/>
<line x1="124.05" y1="315.30" x2="124.05" y2="320.00" stroke="#222" stroke-width="0.9"/>
<rect x="159.50" y="235.40" width="8.0" height="79.90" fill="#ffffff" stroke="#1a1a1a" stroke-width="0.8"/>
<rect x="171.43" y="233.20" width="8.0" height="82.10" fill="#d6d6d6" stroke="#1a1a1a" stroke-width="0.8"/>
<rect x="183.36" y="233.20" width="8.0" height="82.10" fill="#808080" stroke="#1a1a1a" stroke-width="0.8"/>
<rect x="195.29" y="236.00" width="8.0" height="79.30" fill="#333333" stroke="#1a1a1a" stroke-width="0.8"/>
<line x1="181.40" y1="315.30" x2="181.40" y2="320.00" stroke="#222" stroke-width="0.9"/>
<circle cx="46.00" cy="230.00" r="1.65" fill="#fff" stroke="#111" stroke-width="0.8"/>
<circle cx="52.10" cy="231.20" r="1.65" fill="#fff" stroke="#111" stroke-width="0.8"/>
<circle cx="49.10" cy="239.60" r="1.65" fill="#fff" stroke="#111" stroke-width="0.8"/>
<circle cx="57.90" cy="232.10" r="1.65" fill="#fff" stroke="#111" stroke-width="0.8"/>
<circle cx="60.90" cy="230.00" r="1.65" fill="#fff" stroke="#111" stroke-width="0.8"/>
<circle cx="64.00" cy="232.10" r="1.65" fill="#fff" stroke="#111" stroke-width="0.8"/>
<circle cx="69.80" cy="232.10" r="1.65" fill="#fff" stroke="#111" stroke-width="0.8"/>
<circle cx="72.80" cy="228.80" r="1.65" fill="#fff" stroke="#111" stroke-width="0.8"/>
<circle cx="75.80" cy="232.10" r="1.65" fill="#fff" stroke="#111" stroke-width="0.8"/>
<circle cx="81.60" cy="237.40" r="1.65" fill="#fff" stroke="#111" stroke-width="0.8"/>
<circle cx="84.60" cy="237.40" r="1.65" fill="#fff" stroke="#111" stroke-width="0.8"/>
<circle cx="87.70" cy="237.40" r="1.65" fill="#fff" stroke="#111" stroke-width="0.8"/>
<circle cx="102.90" cy="236.00" r="1.65" fill="#fff" stroke="#111" stroke-width="0.8"/>
<circle cx="105.90" cy="234.00" r="1.65" fill="#fff" stroke="#111" stroke-width="0.8"/>
<circle cx="109.00" cy="234.00" r="1.65" fill="#fff" stroke="#111" stroke-width="0.8"/>
<circle cx="117.80" cy="227.00" r="1.65" fill="#fff" stroke="#111" stroke-width="0.8"/>
<circle cx="115.20" cy="236.00" r="1.65" fill="#fff" stroke="#111" stroke-width="0.8"/>
<circle cx="121.30" cy="234.00" r="1.65" fill="#fff" stroke="#111" stroke-width="0.8"/>
<circle cx="130.10" cy="231.00" r="1.65" fill="#fff" stroke="#111" stroke-width="0.8"/>
<circle cx="127.00" cy="239.50" r="1.65" fill="#fff" stroke="#111" stroke-width="0.8"/>
<circle cx="132.70" cy="239.50" r="1.65" fill="#fff" stroke="#111" stroke-width="0.8"/>
<circle cx="141.80" cy="253.00" r="1.65" fill="#fff" stroke="#111" stroke-width="0.8"/>
<circle cx="138.90" cy="259.10" r="1.65" fill="#fff" stroke="#111" stroke-width="0.8"/>
<circle cx="145.00" cy="257.00" r="1.65" fill="#fff" stroke="#111" stroke-width="0.8"/>
<circle cx="160.30" cy="231.90" r="1.65" fill="#fff" stroke="#111" stroke-width="0.8"/>
<circle cx="160.30" cy="237.50" r="1.65" fill="#fff" stroke="#111" stroke-width="0.8"/>
<circle cx="166.40" cy="235.40" r="1.65" fill="#fff" stroke="#111" stroke-width="0.8"/>
<circle cx="175.20" cy="228.80" r="1.65" fill="#fff" stroke="#111" stroke-width="0.8"/>
<circle cx="172.20" cy="235.40" r="1.65" fill="#fff" stroke="#111" stroke-width="0.8"/>
<circle cx="178.30" cy="233.70" r="1.65" fill="#fff" stroke="#111" stroke-width="0.8"/>
<circle cx="187.10" cy="228.80" r="1.65" fill="#fff" stroke="#111" stroke-width="0.8"/>
<circle cx="184.10" cy="233.70" r="1.65" fill="#fff" stroke="#111" stroke-width="0.8"/>
<circle cx="189.70" cy="233.70" r="1.65" fill="#fff" stroke="#111" stroke-width="0.8"/>
<circle cx="195.90" cy="232.30" r="1.65" fill="#fff" stroke="#111" stroke-width="0.8"/>
<circle cx="202.00" cy="233.70" r="1.65" fill="#fff" stroke="#111" stroke-width="0.8"/>
<circle cx="199.00" cy="242.50" r="1.65" fill="#fff" stroke="#111" stroke-width="0.8"/>
<text transform="translate(70.80,324.20) rotate(-45)" font-size="9.25" text-anchor="end" fill="#222">No system</text>
<text transform="translate(128.15,324.20) rotate(-45)" font-size="9.25" text-anchor="end" fill="#222">Bil system</text>
<text transform="translate(140.15,327.00) rotate(-45)" font-size="9.25" text-anchor="end" fill="#222">wild-type</text>
<text transform="translate(185.50,324.20) rotate(-45)" font-size="9.25" text-anchor="end" fill="#222">Bil system</text>
<text transform="translate(197.50,327.00) rotate(-45)" font-size="9.25" text-anchor="end" fill="#222">E1 C385A</text>
<text transform="translate(13.60,259.15) rotate(-90)" font-size="9.2" text-anchor="middle" fill="#222">PFU/ml</text>
<text x="322.20" y="202.30" font-size="9.4" text-anchor="middle" font-style="normal" font-weight="normal" fill="#222" >SECphi17</text>
<line x1="237.80" y1="203.00" x2="237.80" y2="315.75" stroke="#222" stroke-width="0.9"/>
<line x1="233.60" y1="203.00" x2="237.80" y2="203.00" stroke="#222" stroke-width="0.9"/>
<text x="228.21" y="206.00" font-size="9" text-anchor="end" fill="#222">10</text>
<text x="232.10" y="203.20" font-size="6.3" text-anchor="end" fill="#222">8</text>
<line x1="235.00" y1="222.62" x2="237.80" y2="222.62" stroke="#222" stroke-width="0.9"/>
<line x1="235.00" y1="217.68" x2="237.80" y2="217.68" stroke="#222" stroke-width="0.9"/>
<line x1="235.00" y1="214.17" x2="237.80" y2="214.17" stroke="#222" stroke-width="0.9"/>
<line x1="235.00" y1="211.45" x2="237.80" y2="211.45" stroke="#222" stroke-width="0.9"/>
<line x1="235.00" y1="209.23" x2="237.80" y2="209.23" stroke="#222" stroke-width="0.9"/>
<line x1="235.00" y1="207.35" x2="237.80" y2="207.35" stroke="#222" stroke-width="0.9"/>
<line x1="235.00" y1="205.72" x2="237.80" y2="205.72" stroke="#222" stroke-width="0.9"/>
<line x1="235.00" y1="204.28" x2="237.80" y2="204.28" stroke="#222" stroke-width="0.9"/>
<line x1="233.60" y1="231.07" x2="237.80" y2="231.07" stroke="#222" stroke-width="0.9"/>
<text x="228.21" y="234.07" font-size="9" text-anchor="end" fill="#222">10</text>
<text x="232.10" y="231.27" font-size="6.3" text-anchor="end" fill="#222">7</text>
<line x1="235.00" y1="250.70" x2="237.80" y2="250.70" stroke="#222" stroke-width="0.9"/>
<line x1="235.00" y1="245.75" x2="237.80" y2="245.75" stroke="#222" stroke-width="0.9"/>
<line x1="235.00" y1="242.25" x2="237.80" y2="242.25" stroke="#222" stroke-width="0.9"/>
<line x1="235.00" y1="239.53" x2="237.80" y2="239.53" stroke="#222" stroke-width="0.9"/>
<line x1="235.00" y1="237.30" x2="237.80" y2="237.30" stroke="#222" stroke-width="0.9"/>
<line x1="235.00" y1="235.42" x2="237.80" y2="235.42" stroke="#222" stroke-width="0.9"/>
<line x1="235.00" y1="233.80" x2="237.80" y2="233.80" stroke="#222" stroke-width="0.9"/>
<line x1="235.00" y1="232.36" x2="237.80" y2="232.36" stroke="#222" stroke-width="0.9"/>
<line x1="233.60" y1="259.15" x2="237.80" y2="259.15" stroke="#222" stroke-width="0.9"/>
<text x="228.21" y="262.15" font-size="9" text-anchor="end" fill="#222">10</text>
<text x="232.10" y="259.35" font-size="6.3" text-anchor="end" fill="#222">6</text>
<line x1="235.00" y1="278.77" x2="237.80" y2="278.77" stroke="#222" stroke-width="0.9"/>
<line x1="235.00" y1="273.83" x2="237.80" y2="273.83" stroke="#222" stroke-width="0.9"/>
<line x1="235.00" y1="270.32" x2="237.80" y2="270.32" stroke="#222" stroke-width="0.9"/>
<line x1="235.00" y1="267.60" x2="237.80" y2="267.60" stroke="#222" stroke-width="0.9"/>
<line x1="235.00" y1="265.38" x2="237.80" y2="265.38" stroke="#222" stroke-width="0.9"/>
<line x1="235.00" y1="263.50" x2="237.80" y2="263.50" stroke="#222" stroke-width="0.9"/>
<line x1="235.00" y1="261.87" x2="237.80" y2="261.87" stroke="#222" stroke-width="0.9"/>
<line x1="235.00" y1="260.43" x2="237.80" y2="260.43" stroke="#222" stroke-width="0.9"/>
<line x1="233.60" y1="287.23" x2="237.80" y2="287.23" stroke="#222" stroke-width="0.9"/>
<text x="228.21" y="290.23" font-size="9" text-anchor="end" fill="#222">10</text>
<text x="232.10" y="287.43" font-size="6.3" text-anchor="end" fill="#222">5</text>
<line x1="235.00" y1="306.85" x2="237.80" y2="306.85" stroke="#222" stroke-width="0.9"/>
<line x1="235.00" y1="301.90" x2="237.80" y2="301.90" stroke="#222" stroke-width="0.9"/>
<line x1="235.00" y1="298.40" x2="237.80" y2="298.40" stroke="#222" stroke-width="0.9"/>
<line x1="235.00" y1="295.68" x2="237.80" y2="295.68" stroke="#222" stroke-width="0.9"/>
<line x1="235.00" y1="293.45" x2="237.80" y2="293.45" stroke="#222" stroke-width="0.9"/>
<line x1="235.00" y1="291.57" x2="237.80" y2="291.57" stroke="#222" stroke-width="0.9"/>
<line x1="235.00" y1="289.95" x2="237.80" y2="289.95" stroke="#222" stroke-width="0.9"/>
<line x1="235.00" y1="288.51" x2="237.80" y2="288.51" stroke="#222" stroke-width="0.9"/>
<line x1="233.60" y1="315.30" x2="237.80" y2="315.30" stroke="#222" stroke-width="0.9"/>
<text x="228.21" y="318.30" font-size="9" text-anchor="end" fill="#222">10</text>
<text x="232.10" y="315.50" font-size="6.3" text-anchor="end" fill="#222">4</text>
<line x1="237.35" y1="315.30" x2="407.80" y2="315.30" stroke="#222" stroke-width="0.9"/>
<rect x="243.30" y="213.30" width="8.0" height="102.00" fill="#ffffff" stroke="#1a1a1a" stroke-width="0.8"/>
<rect x="255.23" y="213.30" width="8.0" height="102.00" fill="#d6d6d6" stroke="#1a1a1a" stroke-width="0.8"/>
<rect x="267.16" y="213.30" width="8.0" height="102.00" fill="#808080" stroke="#1a1a1a" stroke-width="0.8"/>
<rect x="279.09" y="214.70" width="8.0" height="100.60" fill="#333333" stroke="#1a1a1a" stroke-width="0.8"/>
<line x1="265.20" y1="315.30" x2="265.20" y2="320.00" stroke="#222" stroke-width="0.9"/>
<rect x="300.65" y="212.50" width="8.0" height="102.80" fill="#ffffff" stroke="#1a1a1a" stroke-width="0.8"/>
<rect x="312.58" y="215.60" width="8.0" height="99.70" fill="#d6d6d6" stroke="#1a1a1a" stroke-width="0.8"/>
<rect x="324.51" y="216.80" width="8.0" height="98.50" fill="#808080" stroke="#1a1a1a" stroke-width="0.8"/>
<rect x="336.44" y="214.70" width="8.0" height="100.60" fill="#333333" stroke="#1a1a1a" stroke-width="0.8"/>
<line x1="322.55" y1="315.30" x2="322.55" y2="320.00" stroke="#222" stroke-width="0.9"/>
<rect x="358.00" y="212.50" width="8.0" height="102.80" fill="#ffffff" stroke="#1a1a1a" stroke-width="0.8"/>
<rect x="369.93" y="215.60" width="8.0" height="99.70" fill="#d6d6d6" stroke="#1a1a1a" stroke-width="0.8"/>
<rect x="381.86" y="214.70" width="8.0" height="100.60" fill="#808080" stroke="#1a1a1a" stroke-width="0.8"/>
<rect x="393.79" y="213.30" width="8.0" height="102.00" fill="#333333" stroke="#1a1a1a" stroke-width="0.8"/>
<line x1="379.90" y1="315.30" x2="379.90" y2="320.00" stroke="#222" stroke-width="0.9"/>
<circle cx="244.80" cy="208.90" r="1.65" fill="#fff" stroke="#111" stroke-width="0.8"/>
<circle cx="250.60" cy="211.60" r="1.65" fill="#fff" stroke="#111" stroke-width="0.8"/>
<circle cx="247.50" cy="222.60" r="1.65" fill="#fff" stroke="#111" stroke-width="0.8"/>
<circle cx="256.60" cy="208.90" r="1.65" fill="#fff" stroke="#111" stroke-width="0.8"/>
<circle cx="262.40" cy="211.60" r="1.65" fill="#fff" stroke="#111" stroke-width="0.8"/>
<circle cx="259.40" cy="222.60" r="1.65" fill="#fff" stroke="#111" stroke-width="0.8"/>
<circle cx="271.10" cy="208.90" r="1.65" fill="#fff" stroke="#111" stroke-width="0.8"/>
<circle cx="271.10" cy="213.70" r="1.65" fill="#fff" stroke="#111" stroke-width="0.8"/>
<circle cx="271.10" cy="217.70" r="1.65" fill="#fff" stroke="#111" stroke-width="0.8"/>
<circle cx="280.30" cy="211.20" r="1.65" fill="#fff" stroke="#111" stroke-width="0.8"/>
<circle cx="286.10" cy="213.70" r="1.65" fill="#fff" stroke="#111" stroke-width="0.8"/>
<circle cx="283.10" cy="217.70" r="1.65" fill="#fff" stroke="#111" stroke-width="0.8"/>
<circle cx="301.50" cy="208.90" r="1.65" fill="#fff" stroke="#111" stroke-width="0.8"/>
<circle cx="301.50" cy="213.70" r="1.65" fill="#fff" stroke="#111" stroke-width="0.8"/>
<circle cx="307.60" cy="211.60" r="1.65" fill="#fff" stroke="#111" stroke-width="0.8"/>
<circle cx="316.40" cy="208.90" r="1.65" fill="#fff" stroke="#111" stroke-width="0.8"/>
<circle cx="316.40" cy="213.70" r="1.65" fill="#fff" stroke="#111" stroke-width="0.8"/>
<circle cx="316.40" cy="230.90" r="1.65" fill="#fff" stroke="#111" stroke-width="0.8"/>
<circle cx="325.20" cy="211.60" r="1.65" fill="#fff" stroke="#111" stroke-width="0.8"/>
<circle cx="331.10" cy="213.70" r="1.65" fill="#fff" stroke="#111" stroke-width="0.8"/>
<circle cx="328.20" cy="230.90" r="1.65" fill="#fff" stroke="#111" stroke-width="0.8"/>
<circle cx="337.20" cy="211.20" r="1.65" fill="#fff" stroke="#111" stroke-width="0.8"/>
<circle cx="343.30" cy="211.20" r="1.65" fill="#fff" stroke="#111" stroke-width="0.8"/>
<circle cx="340.20" cy="222.60" r="1.65" fill="#fff" stroke="#111" stroke-width="0.8"/>
<circle cx="358.80" cy="208.90" r="1.65" fill="#fff" stroke="#111" stroke-width="0.8"/>
<circle cx="364.70" cy="211.20" r="1.65" fill="#fff" stroke="#111" stroke-width="0.8"/>
<circle cx="361.40" cy="217.40" r="1.65" fill="#fff" stroke="#111" stroke-width="0.8"/>
<circle cx="370.50" cy="211.20" r="1.65" fill="#fff" stroke="#111" stroke-width="0.8"/>
<circle cx="376.30" cy="213.70" r="1.65" fill="#fff" stroke="#111" stroke-width="0.8"/>
<circle cx="373.50" cy="222.60" r="1.65" fill="#fff" stroke="#111" stroke-width="0.8"/>
<circle cx="381.90" cy="213.70" r="1.65" fill="#fff" stroke="#111" stroke-width="0.8"/>
<circle cx="385.10" cy="213.70" r="1.65" fill="#fff" stroke="#111" stroke-width="0.8"/>
<circle cx="388.40" cy="213.70" r="1.65" fill="#fff" stroke="#111" stroke-width="0.8"/>
<circle cx="394.20" cy="213.70" r="1.65" fill="#fff" stroke="#111" stroke-width="0.8"/>
<circle cx="397.20" cy="211.20" r="1.65" fill="#fff" stroke="#111" stroke-width="0.8"/>
<circle cx="400.40" cy="211.20" r="1.65" fill="#fff" stroke="#111" stroke-width="0.8"/>
<text transform="translate(269.30,324.20) rotate(-45)" font-size="9.25" text-anchor="end" fill="#222">No system</text>
<text transform="translate(326.65,324.20) rotate(-45)" font-size="9.25" text-anchor="end" fill="#222">Bil system</text>
<text transform="translate(338.65,327.00) rotate(-45)" font-size="9.25" text-anchor="end" fill="#222">wild-type</text>
<text transform="translate(384.00,324.20) rotate(-45)" font-size="9.25" text-anchor="end" fill="#222">Bil system</text>
<text transform="translate(396.00,327.00) rotate(-45)" font-size="9.25" text-anchor="end" fill="#222">E1 C385A</text>
<rect x="618.6" y="31.40" width="8.2" height="8.2" fill="#ffffff" stroke="#1a1a1a" stroke-width="0.8"/>
<text x="629.80" y="38.80" font-size="9.5" text-anchor="start" font-style="normal" font-weight="normal" fill="#222" >0 ng/ml aTc</text>
<rect x="618.6" y="43.45" width="8.2" height="8.2" fill="#d6d6d6" stroke="#1a1a1a" stroke-width="0.8"/>
<text x="629.80" y="50.85" font-size="9.5" text-anchor="start" font-style="normal" font-weight="normal" fill="#222" >10 ng/ml aTc</text>
<rect x="618.6" y="55.50" width="8.2" height="8.2" fill="#808080" stroke="#1a1a1a" stroke-width="0.8"/>
<text x="629.80" y="62.90" font-size="9.5" text-anchor="start" font-style="normal" font-weight="normal" fill="#222" >25 ng/ml aTc</text>
<rect x="618.6" y="67.55" width="8.2" height="8.2" fill="#333333" stroke="#1a1a1a" stroke-width="0.8"/>
<text x="629.80" y="74.95" font-size="9.5" text-anchor="start" font-style="normal" font-weight="normal" fill="#222" >50 ng/ml aTc</text>
<text x="1.80" y="8.70" font-size="9.6" text-anchor="start" font-style="normal" font-weight="bold" fill="#111" >a</text>
<text x="435.60" y="196.10" font-size="9.6" text-anchor="start" font-style="normal" font-weight="bold" fill="#111" >b</text>
<text x="2.20" y="376.80" font-size="9.6" text-anchor="start" font-style="normal" font-weight="bold" fill="#111" >c</text>
<line x1="473.50" y1="202.60" x2="473.50" y2="315.95" stroke="#222" stroke-width="0.9"/>
<line x1="469.30" y1="202.60" x2="473.50" y2="202.60" stroke="#222" stroke-width="0.9"/>
<text x="468.00" y="205.90" font-size="9.4" text-anchor="end" font-style="normal" font-weight="normal" fill="#222" >20</text>
<line x1="471.10" y1="213.89" x2="473.50" y2="213.89" stroke="#222" stroke-width="0.8"/>
<line x1="469.30" y1="225.18" x2="473.50" y2="225.18" stroke="#222" stroke-width="0.9"/>
<text x="468.00" y="228.48" font-size="9.4" text-anchor="end" font-style="normal" font-weight="normal" fill="#222" >15</text>
<line x1="471.10" y1="236.47" x2="473.50" y2="236.47" stroke="#222" stroke-width="0.8"/>
<line x1="469.30" y1="247.76" x2="473.50" y2="247.76" stroke="#222" stroke-width="0.9"/>
<text x="468.00" y="251.06" font-size="9.4" text-anchor="end" font-style="normal" font-weight="normal" fill="#222" >10</text>
<line x1="471.10" y1="259.05" x2="473.50" y2="259.05" stroke="#222" stroke-width="0.8"/>
<line x1="469.30" y1="270.34" x2="473.50" y2="270.34" stroke="#222" stroke-width="0.9"/>
<text x="468.00" y="273.64" font-size="9.4" text-anchor="end" font-style="normal" font-weight="normal" fill="#222" >5</text>
<line x1="471.10" y1="281.63" x2="473.50" y2="281.63" stroke="#222" stroke-width="0.8"/>
<line x1="469.30" y1="292.92" x2="473.50" y2="292.92" stroke="#222" stroke-width="0.9"/>
<text x="468.00" y="296.22" font-size="9.4" text-anchor="end" font-style="normal" font-weight="normal" fill="#222" >0</text>
<line x1="471.10" y1="304.21" x2="473.50" y2="304.21" stroke="#222" stroke-width="0.8"/>
<line x1="469.30" y1="315.50" x2="473.50" y2="315.50" stroke="#222" stroke-width="0.9"/>
<text x="468.00" y="318.80" font-size="9.4" text-anchor="end" font-style="normal" font-weight="normal" fill="#222" >-5</text>
<line x1="473.05" y1="315.50" x2="642.70" y2="315.50" stroke="#222" stroke-width="0.9"/>
<text x="557.50" y="327.60" font-size="9.55" text-anchor="middle" fill="#222">Genes sorted by mean log<tspan font-size="6.4" dy="2.4">2</tspan><tspan dy="-2.4"> TPM</tspan></text>
<text transform="translate(446.30,257.55) rotate(-90)" font-size="9.4" text-anchor="middle" fill="#222">Mean log<tspan font-size="6.2" dy="2.4">2</tspan><tspan dy="-2.4"> TPM</tspan></text>
<path d="M473.50,304.20 L473.74,303.77 L474.00,303.36 L474.28,302.95 L474.57,302.56 L474.88,302.18 L475.20,301.81 L475.53,301.46 L475.88,301.12 L476.23,300.80 L476.60,300.50 L476.98,300.21 L477.38,299.95 L477.80,299.69 L478.24,299.45 L478.71,299.23 L479.19,299.01 L479.68,298.79 L480.20,298.59 L480.72,298.39 L481.25,298.19 L481.78,297.99 L482.32,297.79 L482.87,297.59 L483.41,297.38 L483.97,297.18 L484.54,296.98 L485.13,296.78 L485.73,296.59 L486.33,296.39 L486.95,296.20 L487.57,296.01 L488.19,295.82 L488.81,295.63 L489.44,295.45 L490.06,295.26 L490.68,295.07 L491.29,294.89 L491.90,294.70 L492.51,294.51 L493.12,294.33 L493.73,294.14 L494.34,293.96 L494.95,293.77 L495.56,293.59 L496.17,293.40 L496.78,293.22 L497.39,293.04 L497.99,292.86 L498.59,292.69 L499.18,292.51 L499.77,292.34 L500.35,292.17 L500.92,292.01 L501.47,291.85 L502.02,291.69 L502.56,291.54 L503.09,291.39 L503.61,291.25 L504.14,291.10 L504.66,290.95 L505.20,290.80 L505.74,290.65 L506.29,290.50 L506.85,290.34 L507.43,290.18 L508.03,290.01 L508.65,289.82 L509.29,289.63 L509.95,289.43 L510.62,289.23 L511.31,289.02 L512.00,288.80 L512.69,288.59 L513.39,288.38 L514.09,288.18 L514.77,287.98 L515.45,287.78 L516.12,287.60 L516.78,287.43 L517.41,287.28 L518.02,287.14 L518.61,287.02 L519.18,286.90 L519.73,286.80 L520.27,286.71 L520.80,286.62 L521.32,286.54 L521.84,286.45 L522.36,286.37 L522.88,286.29 L523.41,286.20 L523.95,286.10 L524.50,286.00 L525.06,285.89 L525.64,285.76 L526.23,285.63 L526.82,285.49 L527.42,285.34 L528.03,285.19 L528.65,285.03 L529.26,284.86 L529.88,284.70 L530.51,284.53 L531.13,284.37 L531.75,284.21 L532.37,284.05 L532.99,283.90 L533.60,283.75 L534.21,283.61 L534.82,283.47 L535.42,283.33 L536.03,283.19 L536.64,283.06 L537.25,282.92 L537.86,282.79 L538.46,282.66 L539.07,282.53 L539.68,282.40 L540.29,282.27 L540.90,282.14 L541.50,282.01 L542.11,281.88 L542.72,281.75 L543.34,281.62 L543.95,281.50 L544.56,281.37 L545.17,281.24 L545.78,281.11 L546.40,280.98 L547.01,280.86 L547.62,280.73 L548.24,280.61 L548.85,280.48 L549.46,280.36 L550.08,280.24 L550.69,280.12 L551.30,280.00 L551.91,279.88 L552.52,279.77 L553.13,279.65 L553.74,279.53 L554.35,279.42 L554.96,279.31 L555.57,279.20 L556.18,279.08 L556.79,278.97 L557.40,278.86 L558.01,278.75 L558.62,278.64 L559.23,278.54 L559.84,278.43 L560.46,278.32 L561.07,278.21 L561.68,278.11 L562.30,278.00 L562.91,277.90 L563.53,277.80 L564.14,277.69 L564.76,277.59 L565.38,277.49 L565.99,277.38 L566.61,277.28 L567.22,277.17 L567.83,277.07 L568.45,276.96 L569.06,276.85 L569.67,276.74 L570.29,276.63 L570.91,276.52 L571.53,276.41 L572.14,276.30 L572.76,276.19 L573.38,276.07 L573.99,275.96 L574.60,275.85 L575.21,275.73 L575.82,275.62 L576.42,275.51 L577.01,275.39 L577.60,275.28 L578.17,275.17 L578.73,275.06 L579.28,274.96 L579.82,274.85 L580.35,274.74 L580.89,274.64 L581.43,274.53 L581.97,274.42 L582.53,274.31 L583.10,274.19 L583.69,274.07 L584.30,273.94 L584.94,273.81 L585.61,273.67 L586.30,273.53 L587.02,273.38 L587.76,273.23 L588.52,273.08 L589.30,272.92 L590.10,272.75 L590.91,272.58 L591.73,272.41 L592.56,272.23 L593.40,272.05 L594.24,271.87 L595.09,271.68 L595.94,271.49 L596.79,271.30 L597.64,271.10 L598.49,270.90 L599.33,270.69 L600.16,270.49 L600.99,270.27 L601.85,270.06 L602.72,269.83 L603.60,269.60 L604.50,269.37 L605.40,269.13 L606.30,268.89 L607.21,268.64 L608.12,268.38 L609.02,268.12 L609.92,267.86 L610.81,267.59 L611.69,267.32 L612.55,267.05 L613.40,266.77 L614.23,266.49 L615.03,266.20 L615.82,265.91 L616.57,265.62 L617.30,265.33 L618.00,265.03 L618.68,264.72 L619.35,264.41 L620.01,264.08 L620.65,263.75 L621.28,263.42 L621.90,263.08 L622.51,262.73 L623.10,262.38 L623.68,262.03 L624.25,261.67 L624.81,261.31 L625.35,260.95 L625.88,260.59 L626.39,260.23 L626.90,259.87 L627.38,259.52 L627.86,259.17 L628.32,258.81 L628.76,258.46 L629.20,258.10 L629.62,257.75 L630.04,257.38 L630.45,257.02 L630.85,256.64 L631.25,256.26 L631.65,255.87 L632.04,255.48 L632.44,255.07 L632.83,254.65 L633.24,254.22 L633.64,253.78 L634.05,253.33 L634.45,252.87 L634.85,252.40 L635.24,251.93 L635.62,251.45 L635.99,250.96 L636.35,250.46 L636.69,249.95 L637.02,249.44 L637.32,248.92 L637.60,248.40 L637.86,247.86 L638.13,247.29 L638.38,246.70 L638.63,246.10 L638.88,245.48 L639.11,244.85 L639.34,244.22 L639.55,243.59 L639.76,242.97 L639.95,242.36 L640.12,241.77 L640.29,241.21 L640.43,240.66 L640.56,240.15 L640.68,239.68 L640.79,239.21 L640.89,238.76 L640.99,238.32 L641.09,237.90 L641.17,237.49 L641.25,237.10 L641.31,236.72 L641.36,236.35 L641.40,236.00" fill="none" stroke="#111" stroke-width="1.35" stroke-linejoin="round" stroke-linecap="round"/>
<rect x="641.3" y="214.6" width="1.0" height="1.2" fill="#444"/>
<rect x="641.3" y="219.4" width="1.0" height="3.6" fill="#444"/>
<rect x="641.3" y="225" width="1.0" height="4.8" fill="#444"/>
<rect x="641.3" y="231.6" width="1.0" height="4.4" fill="#444"/>
<circle cx="491.40" cy="207.50" r="1.5" fill="#86b8e8"/>
<circle cx="491.40" cy="220.70" r="1.5" fill="#62d862"/>
<circle cx="491.40" cy="233.00" r="1.45" fill="#111"/>
<text x="496.70" y="210.80" font-size="9.4" text-anchor="start" font-style="normal" font-weight="normal" fill="#222" >Plasmid-encoded genes</text>
<text x="496.70" y="223.90" font-size="9.4" text-anchor="start" font-style="normal" font-weight="normal" fill="#222" >Chromosomal defense systems</text>
<text x="496.7" y="236.2" font-size="9.4" fill="#222"><tspan font-style="italic">E. coli</tspan> genes</text>
<text x="482.30" y="284.60" font-size="7.9" font-style="italic" fill="#222">mcrC</text>
<text x="498.00" y="303.20" font-size="7.9" font-style="italic" fill="#222">hsdS</text>
<text x="501.20" y="274.20" font-size="7.9" font-style="italic" fill="#222">bilB</text>
<text x="517.00" y="277.20" font-size="7.9" font-style="italic" fill="#222">bilC</text>
<text x="523.20" y="265.80" font-size="7.9" font-style="italic" fill="#222">abpA</text>
<text x="520.90" y="298.60" font-size="7.9" font-style="italic" fill="#222">hsdR</text>
<text x="538.00" y="274.60" font-size="7.9" font-style="italic" fill="#222">bilD</text>
<text x="535.80" y="307.40" font-size="7.9" font-style="italic" fill="#222">abpB</text>
<text x="548.00" y="264.00" font-size="7.9" font-style="italic" fill="#222">mcrB</text>
<text x="553.30" y="293.90" font-size="7.9" font-style="italic" fill="#222">lit</text>
<text x="563.00" y="271.00" font-size="7.9" font-style="italic" fill="#222">bilA</text>
<text x="563.00" y="300.20" font-size="7.9" font-style="italic" fill="#222">hsdM</text>
<text x="573.80" y="260.20" font-size="7.9" font-style="italic" fill="#222">mcrA</text>
<text x="571.80" y="288.40" font-size="7.9" font-style="italic" fill="#222">yjiT</text>
<text x="588.70" y="268.40" font-size="7.9" font-style="italic" fill="#222">rnlB</text>
<text x="589.60" y="285.60" font-size="7.9" font-style="italic" fill="#222">mrr</text>
<text x="617.60" y="276.00" font-size="7.9" font-style="italic" fill="#222">rnlA</text>
<text x="612.40" y="253.70" font-size="7.9" font-style="italic" fill="#222">tetR</text>
<text x="645.70" y="253.70" font-size="7.9" font-style="italic" fill="#222">kanR</text>
<line x1="501.60" y1="284.20" x2="506.80" y2="289.50" stroke="#222" stroke-width="0.8"/>
<line x1="514.70" y1="296.00" x2="520.00" y2="286.80" stroke="#222" stroke-width="0.8"/>
<line x1="512.10" y1="276.30" x2="517.40" y2="285.10" stroke="#222" stroke-width="0.8"/>
<line x1="528.80" y1="279.00" x2="530.50" y2="284.20" stroke="#222" stroke-width="0.8"/>
<line x1="534.00" y1="268.40" x2="533.20" y2="282.50" stroke="#222" stroke-width="0.8"/>
<line x1="536.70" y1="292.10" x2="536.70" y2="284.20" stroke="#222" stroke-width="0.8"/>
<line x1="542.80" y1="276.30" x2="544.00" y2="281.00" stroke="#222" stroke-width="0.8"/>
<line x1="546.30" y1="300.90" x2="543.70" y2="280.70" stroke="#222" stroke-width="0.8"/>
<line x1="558.60" y1="265.80" x2="549.80" y2="279.80" stroke="#222" stroke-width="0.8"/>
<line x1="553.90" y1="280.60" x2="555.60" y2="286.50" stroke="#222" stroke-width="0.8"/>
<line x1="567.90" y1="273.00" x2="565.10" y2="276.30" stroke="#222" stroke-width="0.8"/>
<line x1="567.40" y1="293.00" x2="563.00" y2="279.00" stroke="#222" stroke-width="0.8"/>
<line x1="580.80" y1="262.80" x2="578.70" y2="275.10" stroke="#222" stroke-width="0.8"/>
<line x1="587.80" y1="269.80" x2="583.40" y2="274.20" stroke="#222" stroke-width="0.8"/>
<line x1="587.80" y1="279.50" x2="581.70" y2="276.00" stroke="#222" stroke-width="0.8"/>
<line x1="577.60" y1="281.20" x2="578.30" y2="276.50" stroke="#222" stroke-width="0.8"/>
<line x1="622.00" y1="268.00" x2="620.30" y2="263.70" stroke="#222" stroke-width="0.8"/>
<line x1="627.30" y1="253.20" x2="631.30" y2="256.10" stroke="#222" stroke-width="0.8"/>
<line x1="640.80" y1="248.80" x2="644.80" y2="250.90" stroke="#222" stroke-width="0.8"/>
<circle cx="507.20" cy="290.10" r="1.05" fill="#62d862"/>
<circle cx="518.60" cy="287.00" r="1.05" fill="#86b8e8"/>
<circle cx="521.70" cy="286.40" r="1.05" fill="#62d862"/>
<circle cx="529.40" cy="284.90" r="1.05" fill="#86b8e8"/>
<circle cx="532.90" cy="284.00" r="1.05" fill="#62d862"/>
<circle cx="536.80" cy="283.20" r="1.05" fill="#62d862"/>
<circle cx="543.40" cy="281.70" r="1.05" fill="#86b8e8"/>
<circle cx="549.50" cy="280.40" r="1.05" fill="#62d862"/>
<circle cx="554.30" cy="279.60" r="1.05" fill="#62d862"/>
<circle cx="562.70" cy="278.40" r="1.05" fill="#62d862"/>
<circle cx="565.30" cy="277.90" r="1.05" fill="#86b8e8"/>
<circle cx="578.90" cy="275.30" r="1.05" fill="#62d862"/>
<circle cx="582.40" cy="274.70" r="1.05" fill="#62d862"/>
<circle cx="620.80" cy="263.90" r="1.05" fill="#62d862"/>
<path d="M631.8,256.2 C634.3,253.6 636.5,250.6 638,247.6" fill="none" stroke="#93b6da" stroke-width="1.35"/>
<line x1="39.40" y1="383.50" x2="39.40" y2="496.75" stroke="#222" stroke-width="0.9"/>
<line x1="35.20" y1="383.50" x2="39.40" y2="383.50" stroke="#222" stroke-width="0.9"/>
<text x="33.90" y="386.80" font-size="9.4" text-anchor="end" font-style="normal" font-weight="normal" fill="#222" >20</text>
<line x1="37.00" y1="394.78" x2="39.40" y2="394.78" stroke="#222" stroke-width="0.8"/>
<line x1="35.20" y1="406.06" x2="39.40" y2="406.06" stroke="#222" stroke-width="0.9"/>
<text x="33.90" y="409.36" font-size="9.4" text-anchor="end" font-style="normal" font-weight="normal" fill="#222" >15</text>
<line x1="37.00" y1="417.34" x2="39.40" y2="417.34" stroke="#222" stroke-width="0.8"/>
<line x1="35.20" y1="428.62" x2="39.40" y2="428.62" stroke="#222" stroke-width="0.9"/>
<text x="33.90" y="431.92" font-size="9.4" text-anchor="end" font-style="normal" font-weight="normal" fill="#222" >10</text>
<line x1="37.00" y1="439.90" x2="39.40" y2="439.90" stroke="#222" stroke-width="0.8"/>
<line x1="35.20" y1="451.18" x2="39.40" y2="451.18" stroke="#222" stroke-width="0.9"/>
<text x="33.90" y="454.48" font-size="9.4" text-anchor="end" font-style="normal" font-weight="normal" fill="#222" >5</text>
<line x1="37.00" y1="462.46" x2="39.40" y2="462.46" stroke="#222" stroke-width="0.8"/>
<line x1="35.20" y1="473.74" x2="39.40" y2="473.74" stroke="#222" stroke-width="0.9"/>
<text x="33.90" y="477.04" font-size="9.4" text-anchor="end" font-style="normal" font-weight="normal" fill="#222" >0</text>
<line x1="37.00" y1="485.02" x2="39.40" y2="485.02" stroke="#222" stroke-width="0.8"/>
<line x1="35.20" y1="496.30" x2="39.40" y2="496.30" stroke="#222" stroke-width="0.9"/>
<text x="33.90" y="499.60" font-size="9.4" text-anchor="end" font-style="normal" font-weight="normal" fill="#222" >-5</text>
<line x1="38.95" y1="496.30" x2="208.60" y2="496.30" stroke="#222" stroke-width="0.9"/>
<text x="124.10" y="508.10" font-size="9.55" text-anchor="middle" fill="#222">Genes sorted by mean log<tspan font-size="6.4" dy="2.4">2</tspan><tspan dy="-2.4"> TPM</tspan></text>
<text transform="translate(13.90,440.40) rotate(-90)" font-size="9.4" text-anchor="middle" fill="#222">Mean log<tspan font-size="6.2" dy="2.4">2</tspan><tspan dy="-2.4"> TPM</tspan></text>
<text x="123.70" y="386.60" font-size="9.45" text-anchor="middle" font-style="normal" font-weight="normal" fill="#222" >Mid log phase</text>
<line x1="250.50" y1="383.50" x2="250.50" y2="496.75" stroke="#222" stroke-width="0.9"/>
<line x1="246.30" y1="383.50" x2="250.50" y2="383.50" stroke="#222" stroke-width="0.9"/>
<text x="245.00" y="386.80" font-size="9.4" text-anchor="end" font-style="normal" font-weight="normal" fill="#222" >20</text>
<line x1="248.10" y1="394.78" x2="250.50" y2="394.78" stroke="#222" stroke-width="0.8"/>
<line x1="246.30" y1="406.06" x2="250.50" y2="406.06" stroke="#222" stroke-width="0.9"/>
<text x="245.00" y="409.36" font-size="9.4" text-anchor="end" font-style="normal" font-weight="normal" fill="#222" >15</text>
<line x1="248.10" y1="417.34" x2="250.50" y2="417.34" stroke="#222" stroke-width="0.8"/>
<line x1="246.30" y1="428.62" x2="250.50" y2="428.62" stroke="#222" stroke-width="0.9"/>
<text x="245.00" y="431.92" font-size="9.4" text-anchor="end" font-style="normal" font-weight="normal" fill="#222" >10</text>
<line x1="248.10" y1="439.90" x2="250.50" y2="439.90" stroke="#222" stroke-width="0.8"/>
<line x1="246.30" y1="451.18" x2="250.50" y2="451.18" stroke="#222" stroke-width="0.9"/>
<text x="245.00" y="454.48" font-size="9.4" text-anchor="end" font-style="normal" font-weight="normal" fill="#222" >5</text>
<line x1="248.10" y1="462.46" x2="250.50" y2="462.46" stroke="#222" stroke-width="0.8"/>
<line x1="246.30" y1="473.74" x2="250.50" y2="473.74" stroke="#222" stroke-width="0.9"/>
<text x="245.00" y="477.04" font-size="9.4" text-anchor="end" font-style="normal" font-weight="normal" fill="#222" >0</text>
<line x1="248.10" y1="485.02" x2="250.50" y2="485.02" stroke="#222" stroke-width="0.8"/>
<line x1="246.30" y1="496.30" x2="250.50" y2="496.30" stroke="#222" stroke-width="0.9"/>
<text x="245.00" y="499.60" font-size="9.4" text-anchor="end" font-style="normal" font-weight="normal" fill="#222" >-5</text>
<line x1="250.05" y1="496.30" x2="419.50" y2="496.30" stroke="#222" stroke-width="0.9"/>
<text x="335.20" y="508.10" font-size="9.55" text-anchor="middle" fill="#222">Genes sorted by mean log<tspan font-size="6.4" dy="2.4">2</tspan><tspan dy="-2.4"> TPM</tspan></text>
<text x="334.80" y="386.60" font-size="9.45" text-anchor="middle" font-style="normal" font-weight="normal" fill="#222" >Late log phase</text>
<line x1="460.80" y1="383.50" x2="460.80" y2="496.75" stroke="#222" stroke-width="0.9"/>
<line x1="456.60" y1="383.50" x2="460.80" y2="383.50" stroke="#222" stroke-width="0.9"/>
<text x="455.30" y="386.80" font-size="9.4" text-anchor="end" font-style="normal" font-weight="normal" fill="#222" >20</text>
<line x1="458.40" y1="394.78" x2="460.80" y2="394.78" stroke="#222" stroke-width="0.8"/>
<line x1="456.60" y1="406.06" x2="460.80" y2="406.06" stroke="#222" stroke-width="0.9"/>
<text x="455.30" y="409.36" font-size="9.4" text-anchor="end" font-style="normal" font-weight="normal" fill="#222" >15</text>
<line x1="458.40" y1="417.34" x2="460.80" y2="417.34" stroke="#222" stroke-width="0.8"/>
<line x1="456.60" y1="428.62" x2="460.80" y2="428.62" stroke="#222" stroke-width="0.9"/>
<text x="455.30" y="431.92" font-size="9.4" text-anchor="end" font-style="normal" font-weight="normal" fill="#222" >10</text>
<line x1="458.40" y1="439.90" x2="460.80" y2="439.90" stroke="#222" stroke-width="0.8"/>
<line x1="456.60" y1="451.18" x2="460.80" y2="451.18" stroke="#222" stroke-width="0.9"/>
<text x="455.30" y="454.48" font-size="9.4" text-anchor="end" font-style="normal" font-weight="normal" fill="#222" >5</text>
<line x1="458.40" y1="462.46" x2="460.80" y2="462.46" stroke="#222" stroke-width="0.8"/>
<line x1="456.60" y1="473.74" x2="460.80" y2="473.74" stroke="#222" stroke-width="0.9"/>
<text x="455.30" y="477.04" font-size="9.4" text-anchor="end" font-style="normal" font-weight="normal" fill="#222" >0</text>
<line x1="458.40" y1="485.02" x2="460.80" y2="485.02" stroke="#222" stroke-width="0.8"/>
<line x1="456.60" y1="496.30" x2="460.80" y2="496.30" stroke="#222" stroke-width="0.9"/>
<text x="455.30" y="499.60" font-size="9.4" text-anchor="end" font-style="normal" font-weight="normal" fill="#222" >-5</text>
<line x1="460.35" y1="496.30" x2="630.30" y2="496.30" stroke="#222" stroke-width="0.9"/>
<text x="545.50" y="508.10" font-size="9.55" text-anchor="middle" fill="#222">Genes sorted by mean log<tspan font-size="6.4" dy="2.4">2</tspan><tspan dy="-2.4"> TPM</tspan></text>
<text x="545.10" y="386.60" font-size="9.45" text-anchor="middle" font-style="normal" font-weight="normal" fill="#222" >Early stationary phase</text>
<path d="M39.80,486.00 L39.80,485.42 L39.81,484.85 L39.83,484.29 L39.85,483.75 L39.88,483.23 L39.92,482.72 L39.95,482.23 L40.00,481.76 L40.05,481.30 L40.10,480.86 L40.15,480.44 L40.21,480.04 L40.27,479.66 L40.34,479.29 L40.44,478.94 L40.57,478.61 L40.72,478.30 L40.89,477.99 L41.08,477.70 L41.29,477.42 L41.51,477.15 L41.74,476.88 L41.98,476.62 L42.25,476.36 L42.55,476.11 L42.89,475.87 L43.26,475.63 L43.67,475.40 L44.09,475.17 L44.54,474.95 L45.00,474.73 L45.47,474.51 L45.95,474.30 L46.44,474.08 L46.92,473.87 L47.40,473.65 L47.87,473.43 L48.35,473.21 L48.85,472.99 L49.35,472.76 L49.87,472.54 L50.39,472.32 L50.92,472.10 L51.46,471.89 L52.01,471.67 L52.57,471.46 L53.13,471.25 L53.71,471.04 L54.29,470.84 L54.88,470.65 L55.47,470.45 L56.08,470.27 L56.69,470.09 L57.32,469.91 L57.97,469.73 L58.63,469.55 L59.31,469.38 L59.99,469.21 L60.69,469.04 L61.40,468.87 L62.12,468.71 L62.84,468.55 L63.56,468.39 L64.29,468.23 L65.01,468.08 L65.74,467.93 L66.46,467.79 L67.17,467.64 L67.88,467.50 L68.58,467.37 L69.27,467.24 L69.95,467.11 L70.62,466.99 L71.28,466.87 L71.93,466.75 L72.57,466.64 L73.21,466.54 L73.85,466.43 L74.48,466.33 L75.12,466.23 L75.75,466.13 L76.38,466.03 L77.02,465.93 L77.66,465.84 L78.30,465.74 L78.95,465.64 L79.61,465.54 L80.27,465.44 L80.94,465.33 L81.63,465.23 L82.33,465.12 L83.03,465.01 L83.75,464.89 L84.47,464.78 L85.20,464.67 L85.94,464.55 L86.68,464.44 L87.43,464.32 L88.18,464.21 L88.94,464.09 L89.70,463.97 L90.46,463.85 L91.22,463.74 L91.99,463.62 L92.75,463.50 L93.52,463.39 L94.28,463.27 L95.04,463.16 L95.80,463.04 L96.55,462.93 L97.30,462.81 L98.05,462.70 L98.79,462.59 L99.52,462.48 L100.25,462.36 L100.98,462.25 L101.71,462.14 L102.44,462.03 L103.17,461.91 L103.89,461.80 L104.62,461.69 L105.35,461.58 L106.09,461.47 L106.83,461.36 L107.57,461.25 L108.32,461.14 L109.08,461.03 L109.84,460.92 L110.62,460.82 L111.40,460.71 L112.19,460.61 L112.99,460.50 L113.81,460.40 L114.66,460.30 L115.52,460.19 L116.40,460.09 L117.30,460.00 L118.21,459.90 L119.13,459.80 L120.06,459.70 L121.00,459.60 L121.94,459.51 L122.88,459.41 L123.82,459.32 L124.77,459.22 L125.70,459.13 L126.63,459.03 L127.55,458.94 L128.46,458.84 L129.36,458.74 L130.24,458.65 L131.10,458.55 L131.95,458.46 L132.77,458.36 L133.56,458.26 L134.33,458.16 L135.07,458.06 L135.78,457.97 L136.45,457.87 L137.10,457.77 L137.73,457.68 L138.35,457.59 L138.95,457.49 L139.53,457.40 L140.12,457.30 L140.70,457.21 L141.29,457.11 L141.88,457.01 L142.49,456.91 L143.11,456.81 L143.75,456.70 L144.42,456.59 L145.11,456.48 L145.83,456.36 L146.59,456.24 L147.40,456.11 L148.24,455.98 L149.12,455.84 L150.03,455.70 L150.97,455.55 L151.94,455.40 L152.93,455.25 L153.95,455.09 L154.98,454.93 L156.02,454.77 L157.08,454.60 L158.14,454.44 L159.21,454.27 L160.28,454.10 L161.35,453.92 L162.41,453.75 L163.47,453.58 L164.51,453.40 L165.54,453.23 L166.56,453.05 L167.55,452.88 L168.52,452.71 L169.47,452.53 L170.38,452.36 L171.26,452.19 L172.10,452.02 L172.91,451.86 L173.69,451.69 L174.46,451.53 L175.22,451.36 L175.96,451.19 L176.69,451.03 L177.40,450.86 L178.11,450.70 L178.80,450.53 L179.48,450.36 L180.16,450.20 L180.82,450.03 L181.48,449.86 L182.12,449.69 L182.76,449.51 L183.40,449.34 L184.03,449.17 L184.65,448.99 L185.27,448.81 L185.88,448.64 L186.49,448.46 L187.09,448.28 L187.69,448.10 L188.27,447.92 L188.86,447.74 L189.43,447.56 L190.00,447.38 L190.56,447.20 L191.12,447.02 L191.67,446.83 L192.21,446.63 L192.74,446.44 L193.26,446.23 L193.78,446.03 L194.29,445.81 L194.79,445.59 L195.29,445.37 L195.78,445.14 L196.28,444.90 L196.77,444.66 L197.26,444.41 L197.74,444.15 L198.21,443.89 L198.68,443.62 L199.13,443.34 L199.57,443.06 L200.00,442.76 L200.41,442.46 L200.80,442.14 L201.17,441.82 L201.52,441.48 L201.86,441.13 L202.19,440.75 L202.52,440.35 L202.84,439.94 L203.15,439.51 L203.45,439.06 L203.75,438.61 L204.03,438.14 L204.30,437.66 L204.55,437.18 L204.79,436.69 L205.02,436.20 L205.23,435.71 L205.42,435.23 L205.59,434.74 L205.76,434.25 L205.92,433.75 L206.08,433.25 L206.23,432.74 L206.38,432.22 L206.52,431.70 L206.65,431.17 L206.77,430.64 L206.89,430.10 L207.00,429.55 L207.10,429.00 L207.20,428.44 L207.28,427.88 L207.36,427.31 L207.43,426.74 L207.50,426.15 L207.57,425.57 L207.63,424.97 L207.70,424.37 L207.76,423.77 L207.82,423.15 L207.87,422.53 L207.93,421.91 L207.98,421.28 L208.02,420.64 L208.07,419.99 L208.10,419.34 L208.13,418.69 L208.16,418.02 L208.18,417.35 L208.19,416.68 L208.20,416.00" fill="none" stroke="#111" stroke-width="1.25" stroke-linejoin="round" stroke-linecap="round"/>
<path d="M250.90,486.00 L250.90,485.43 L250.91,484.87 L250.92,484.32 L250.94,483.79 L250.96,483.27 L250.99,482.76 L251.01,482.27 L251.05,481.79 L251.08,481.32 L251.12,480.87 L251.17,480.44 L251.21,480.02 L251.26,479.62 L251.31,479.23 L251.38,478.86 L251.49,478.51 L251.62,478.17 L251.77,477.85 L251.94,477.53 L252.13,477.23 L252.34,476.92 L252.55,476.63 L252.76,476.33 L252.98,476.03 L253.21,475.72 L253.47,475.41 L253.76,475.10 L254.07,474.79 L254.40,474.48 L254.74,474.18 L255.09,473.88 L255.45,473.60 L255.82,473.32 L256.17,473.06 L256.53,472.81 L256.87,472.58 L257.20,472.37 L257.51,472.18 L257.82,472.00 L258.12,471.83 L258.42,471.67 L258.73,471.51 L259.05,471.36 L259.39,471.20 L259.75,471.05 L260.14,470.88 L260.56,470.71 L261.03,470.54 L261.54,470.36 L262.10,470.18 L262.70,470.00 L263.35,469.81 L264.02,469.62 L264.73,469.43 L265.47,469.24 L266.23,469.05 L267.01,468.87 L267.80,468.68 L268.61,468.49 L269.43,468.30 L270.26,468.11 L271.08,467.93 L271.90,467.74 L272.72,467.56 L273.53,467.39 L274.32,467.21 L275.10,467.04 L275.85,466.88 L276.59,466.71 L277.32,466.55 L278.05,466.39 L278.78,466.24 L279.51,466.08 L280.25,465.93 L280.98,465.77 L281.71,465.62 L282.45,465.47 L283.18,465.32 L283.91,465.17 L284.65,465.03 L285.38,464.88 L286.11,464.74 L286.85,464.60 L287.58,464.46 L288.32,464.33 L289.05,464.19 L289.79,464.06 L290.52,463.92 L291.26,463.79 L291.99,463.67 L292.73,463.54 L293.46,463.42 L294.20,463.30 L294.93,463.18 L295.67,463.06 L296.40,462.94 L297.14,462.83 L297.88,462.72 L298.61,462.60 L299.35,462.49 L300.09,462.38 L300.82,462.27 L301.56,462.16 L302.30,462.06 L303.03,461.95 L303.77,461.84 L304.51,461.73 L305.24,461.62 L305.98,461.51 L306.72,461.40 L307.45,461.29 L308.19,461.18 L308.91,461.07 L309.64,460.96 L310.36,460.85 L311.08,460.73 L311.80,460.62 L312.51,460.51 L313.23,460.40 L313.95,460.29 L314.67,460.18 L315.39,460.07 L316.11,459.96 L316.84,459.85 L317.58,459.74 L318.31,459.63 L319.06,459.53 L319.81,459.42 L320.58,459.32 L321.35,459.21 L322.13,459.11 L322.92,459.01 L323.72,458.91 L324.55,458.81 L325.40,458.72 L326.27,458.62 L327.15,458.52 L328.04,458.43 L328.95,458.33 L329.86,458.24 L330.79,458.15 L331.71,458.06 L332.64,457.96 L333.57,457.87 L334.50,457.78 L335.43,457.69 L336.35,457.60 L337.26,457.51 L338.16,457.42 L339.05,457.33 L339.92,457.24 L340.78,457.15 L341.62,457.07 L342.44,456.98 L343.23,456.89 L344.00,456.80 L344.75,456.71 L345.46,456.62 L346.13,456.53 L346.78,456.45 L347.41,456.37 L348.02,456.29 L348.61,456.21 L349.19,456.13 L349.76,456.05 L350.33,455.97 L350.91,455.89 L351.48,455.80 L352.07,455.72 L352.68,455.63 L353.30,455.54 L353.95,455.44 L354.62,455.34 L355.33,455.23 L356.07,455.12 L356.86,455.00 L357.70,454.87 L358.59,454.74 L359.52,454.59 L360.49,454.44 L361.51,454.28 L362.55,454.11 L363.63,453.94 L364.73,453.76 L365.86,453.58 L367.00,453.39 L368.16,453.20 L369.33,453.01 L370.51,452.81 L371.69,452.61 L372.87,452.41 L374.05,452.20 L375.21,452.00 L376.37,451.79 L377.51,451.59 L378.64,451.38 L379.74,451.18 L380.81,450.97 L381.85,450.77 L382.86,450.57 L383.83,450.38 L384.76,450.18 L385.64,450.00 L386.48,449.81 L387.26,449.63 L387.99,449.46 L388.70,449.29 L389.39,449.12 L390.05,448.95 L390.69,448.78 L391.32,448.61 L391.92,448.45 L392.52,448.28 L393.10,448.12 L393.67,447.95 L394.23,447.78 L394.78,447.62 L395.33,447.45 L395.87,447.28 L396.42,447.11 L396.96,446.93 L397.51,446.76 L398.06,446.58 L398.61,446.40 L399.16,446.22 L399.71,446.05 L400.25,445.87 L400.79,445.69 L401.33,445.51 L401.86,445.33 L402.38,445.14 L402.90,444.96 L403.41,444.76 L403.91,444.57 L404.41,444.37 L404.89,444.16 L405.37,443.95 L405.84,443.73 L406.30,443.50 L406.76,443.27 L407.22,443.02 L407.67,442.78 L408.12,442.52 L408.56,442.26 L408.99,441.99 L409.42,441.72 L409.84,441.43 L410.24,441.14 L410.64,440.84 L411.02,440.52 L411.38,440.20 L411.73,439.87 L412.07,439.53 L412.39,439.17 L412.71,438.79 L413.03,438.39 L413.34,437.98 L413.64,437.55 L413.94,437.10 L414.22,436.65 L414.50,436.18 L414.76,435.71 L415.02,435.23 L415.26,434.75 L415.48,434.27 L415.69,433.78 L415.89,433.30 L416.07,432.81 L416.24,432.33 L416.40,431.83 L416.56,431.33 L416.71,430.82 L416.85,430.30 L416.99,429.78 L417.12,429.26 L417.25,428.73 L417.37,428.20 L417.49,427.66 L417.60,427.12 L417.71,426.58 L417.81,426.04 L417.91,425.50 L418.01,424.96 L418.10,424.42 L418.19,423.88 L418.28,423.33 L418.37,422.78 L418.46,422.23 L418.54,421.67 L418.62,421.12 L418.70,420.56 L418.78,420.00 L418.85,419.43 L418.92,418.87 L418.98,418.30 L419.04,417.73 L419.10,417.15 L419.15,416.58 L419.20,416.00" fill="none" stroke="#111" stroke-width="1.25" stroke-linejoin="round" stroke-linecap="round"/>
<path d="M461.20,486.00 L461.20,485.39 L461.21,484.79 L461.22,484.21 L461.23,483.64 L461.25,483.08 L461.28,482.54 L461.30,482.01 L461.33,481.50 L461.36,481.00 L461.40,480.52 L461.44,480.05 L461.48,479.60 L461.52,479.17 L461.57,478.75 L461.62,478.35 L461.70,477.96 L461.80,477.59 L461.94,477.24 L462.09,476.89 L462.26,476.56 L462.45,476.24 L462.65,475.93 L462.85,475.62 L463.06,475.33 L463.27,475.04 L463.49,474.76 L463.73,474.49 L463.99,474.22 L464.27,473.97 L464.57,473.72 L464.87,473.47 L465.19,473.23 L465.51,473.00 L465.83,472.77 L466.16,472.54 L466.48,472.31 L466.80,472.09 L467.11,471.87 L467.43,471.66 L467.74,471.45 L468.06,471.25 L468.39,471.04 L468.73,470.84 L469.09,470.64 L469.47,470.44 L469.87,470.24 L470.29,470.04 L470.75,469.84 L471.25,469.63 L471.79,469.42 L472.38,469.21 L473.00,469.00 L473.66,468.79 L474.35,468.58 L475.06,468.37 L475.80,468.15 L476.57,467.94 L477.35,467.73 L478.14,467.53 L478.95,467.32 L479.76,467.12 L480.57,466.92 L481.39,466.72 L482.20,466.52 L483.01,466.33 L483.80,466.15 L484.59,465.97 L485.35,465.79 L486.10,465.62 L486.83,465.46 L487.56,465.30 L488.29,465.13 L489.02,464.98 L489.75,464.82 L490.49,464.67 L491.22,464.51 L491.95,464.36 L492.69,464.22 L493.42,464.07 L494.15,463.93 L494.89,463.79 L495.62,463.65 L496.36,463.52 L497.09,463.38 L497.83,463.25 L498.56,463.13 L499.30,463.00 L500.03,462.88 L500.77,462.76 L501.50,462.65 L502.24,462.53 L502.98,462.42 L503.71,462.32 L504.45,462.21 L505.19,462.11 L505.92,462.01 L506.66,461.91 L507.40,461.82 L508.13,461.73 L508.87,461.63 L509.61,461.54 L510.35,461.45 L511.09,461.36 L511.82,461.27 L512.56,461.19 L513.30,461.10 L514.04,461.01 L514.78,460.92 L515.51,460.83 L516.25,460.74 L516.99,460.65 L517.73,460.56 L518.46,460.47 L519.19,460.38 L519.91,460.29 L520.63,460.20 L521.35,460.11 L522.07,460.02 L522.79,459.93 L523.51,459.84 L524.23,459.76 L524.95,459.67 L525.67,459.58 L526.40,459.49 L527.13,459.40 L527.87,459.31 L528.61,459.22 L529.36,459.13 L530.12,459.04 L530.88,458.95 L531.66,458.86 L532.44,458.77 L533.24,458.67 L534.05,458.58 L534.89,458.48 L535.75,458.39 L536.62,458.29 L537.51,458.19 L538.41,458.10 L539.32,458.00 L540.23,457.90 L541.16,457.80 L542.09,457.70 L543.02,457.60 L543.95,457.50 L544.87,457.40 L545.80,457.30 L546.71,457.20 L547.62,457.10 L548.51,457.00 L549.40,456.89 L550.26,456.79 L551.11,456.69 L551.94,456.59 L552.75,456.48 L553.54,456.38 L554.29,456.27 L555.02,456.17 L555.72,456.06 L556.38,455.96 L557.02,455.86 L557.64,455.76 L558.24,455.65 L558.82,455.55 L559.40,455.45 L559.97,455.34 L560.54,455.24 L561.11,455.13 L561.69,455.02 L562.28,454.91 L562.89,454.80 L563.52,454.68 L564.17,454.56 L564.85,454.44 L565.57,454.31 L566.33,454.18 L567.13,454.04 L567.98,453.90 L568.89,453.75 L569.83,453.60 L570.82,453.44 L571.85,453.27 L572.90,453.11 L573.99,452.93 L575.10,452.76 L576.23,452.58 L577.38,452.40 L578.54,452.22 L579.72,452.03 L580.90,451.85 L582.08,451.66 L583.26,451.47 L584.43,451.28 L585.60,451.08 L586.75,450.89 L587.89,450.70 L589.01,450.51 L590.10,450.32 L591.16,450.13 L592.20,449.95 L593.19,449.76 L594.15,449.58 L595.07,449.40 L595.93,449.22 L596.75,449.04 L597.51,448.87 L598.24,448.71 L598.94,448.54 L599.62,448.38 L600.27,448.22 L600.91,448.06 L601.53,447.90 L602.13,447.74 L602.72,447.59 L603.30,447.43 L603.87,447.27 L604.43,447.11 L604.98,446.95 L605.53,446.78 L606.07,446.62 L606.61,446.45 L607.16,446.27 L607.71,446.10 L608.26,445.91 L608.81,445.73 L609.36,445.55 L609.90,445.36 L610.44,445.18 L610.98,444.99 L611.51,444.79 L612.03,444.60 L612.55,444.40 L613.07,444.20 L613.57,443.99 L614.07,443.78 L614.56,443.56 L615.04,443.33 L615.51,443.10 L615.98,442.87 L616.43,442.62 L616.88,442.37 L617.33,442.11 L617.78,441.84 L618.22,441.57 L618.65,441.29 L619.08,441.00 L619.50,440.70 L619.91,440.39 L620.31,440.08 L620.69,439.76 L621.07,439.43 L621.43,439.09 L621.77,438.74 L622.10,438.39 L622.42,438.02 L622.74,437.63 L623.05,437.23 L623.35,436.81 L623.65,436.38 L623.93,435.94 L624.21,435.50 L624.48,435.04 L624.75,434.58 L625.00,434.11 L625.24,433.63 L625.48,433.16 L625.70,432.68 L625.91,432.20 L626.12,431.72 L626.32,431.24 L626.52,430.74 L626.71,430.24 L626.91,429.73 L627.09,429.21 L627.28,428.69 L627.45,428.17 L627.62,427.64 L627.78,427.11 L627.93,426.58 L628.07,426.04 L628.20,425.51 L628.31,424.98 L628.42,424.45 L628.51,423.93 L628.60,423.41 L628.68,422.88 L628.77,422.36 L628.85,421.83 L628.93,421.30 L629.00,420.78 L629.07,420.25 L629.13,419.72 L629.19,419.19 L629.25,418.66 L629.29,418.13 L629.33,417.60 L629.36,417.07 L629.39,416.53 L629.40,416.00" fill="none" stroke="#111" stroke-width="1.25" stroke-linejoin="round" stroke-linecap="round"/>
<rect x="208.00" y="388.4" width="1.0" height="1.2" fill="#555"/>
<rect x="208.00" y="395.8" width="1.0" height="2.2" fill="#555"/>
<rect x="208.00" y="402.9" width="1.0" height="1.2" fill="#555"/>
<rect x="208.00" y="408.8" width="1.0" height="2.8" fill="#555"/>
<rect x="208.00" y="413" width="1.0" height="2.4" fill="#555"/>
<rect x="419.10" y="388.4" width="1.0" height="1.2" fill="#555"/>
<rect x="419.10" y="395.8" width="1.0" height="2.2" fill="#555"/>
<rect x="419.10" y="402.9" width="1.0" height="1.2" fill="#555"/>
<rect x="419.10" y="408.8" width="1.0" height="2.8" fill="#555"/>
<rect x="419.10" y="413" width="1.0" height="2.4" fill="#555"/>
<rect x="629.40" y="388.4" width="1.0" height="1.2" fill="#555"/>
<rect x="629.40" y="395.8" width="1.0" height="2.2" fill="#555"/>
<rect x="629.40" y="402.9" width="1.0" height="1.2" fill="#555"/>
<rect x="629.40" y="408.8" width="1.0" height="2.8" fill="#555"/>
<rect x="629.40" y="413" width="1.0" height="2.4" fill="#555"/>
<circle cx="57.40" cy="404.80" r="1.55" fill="#a2a4b6"/>
<circle cx="57.40" cy="417.70" r="1.5" fill="#111"/>
<text x="63.50" y="408.30" font-size="9.4" text-anchor="start" font-style="normal" font-weight="normal" fill="#222" >Chromosomal defense systems</text>
<text x="63.5" y="420.6" font-size="9.4" fill="#222"><tspan font-style="italic">Caulobacter sp.</tspan> genes</text>
<text x="56.50" y="464.50" font-size="7.9" font-style="italic" fill="#222">bilD</text>
<text x="67.80" y="455.60" font-size="7.9" font-style="italic" fill="#222">bilC</text>
<text x="84.10" y="456.20" font-size="7.9" font-style="italic" fill="#222">bilB</text>
<text x="67.80" y="479.60" font-size="7.9" font-style="italic" fill="#222">abiZ</text>
<text x="103.30" y="447.80" font-size="7.9" font-style="italic" fill="#222">REase</text>
<text x="92.00" y="476.50" font-size="7.9" font-style="italic" fill="#222">sanaT</text>
<text x="118.90" y="475.40" font-size="7.9" font-style="italic" fill="#222">sanaA</text>
<text x="140.00" y="446.20" font-size="7.9" font-style="italic" fill="#222">bilA</text>
<text x="157.90" y="445.00" font-size="7.9" font-style="italic" fill="#222">MTase</text>
<text x="144.60" y="469.10" font-size="7.9" font-style="italic" fill="#222">rmrT</text>
<text x="170.40" y="465.20" font-size="7.9" font-style="italic" fill="#222">rmrA</text>
<line x1="70.90" y1="463.70" x2="77.10" y2="465.20" stroke="#222" stroke-width="0.8"/>
<line x1="78.70" y1="457.10" x2="78.70" y2="463.70" stroke="#222" stroke-width="0.8"/>
<line x1="88.00" y1="458.20" x2="85.20" y2="463.40" stroke="#222" stroke-width="0.8"/>
<line x1="80.20" y1="472.30" x2="82.10" y2="466.00" stroke="#222" stroke-width="0.8"/>
<line x1="108.60" y1="449.60" x2="108.60" y2="459.00" stroke="#222" stroke-width="0.8"/>
<line x1="103.20" y1="464.10" x2="103.20" y2="471.50" stroke="#222" stroke-width="0.8"/>
<line x1="125.10" y1="459.80" x2="125.10" y2="469.60" stroke="#222" stroke-width="0.8"/>
<line x1="148.50" y1="450.40" x2="151.20" y2="454.30" stroke="#222" stroke-width="0.8"/>
<line x1="160.20" y1="447.30" x2="153.20" y2="454.30" stroke="#222" stroke-width="0.8"/>
<line x1="148.10" y1="457.40" x2="148.50" y2="463.70" stroke="#222" stroke-width="0.8"/>
<line x1="173.00" y1="454.00" x2="174.30" y2="459.80" stroke="#222" stroke-width="0.8"/>
<circle cx="77.10" cy="465.93" r="1.15" fill="#a8aec4"/>
<circle cx="78.70" cy="465.64" r="1.15" fill="#a8aec4"/>
<circle cx="85.20" cy="464.67" r="1.15" fill="#a8aec4"/>
<circle cx="82.10" cy="465.12" r="1.15" fill="#a8aec4"/>
<circle cx="108.60" cy="461.14" r="1.15" fill="#a8aec4"/>
<circle cx="103.20" cy="461.91" r="1.15" fill="#a8aec4"/>
<circle cx="125.10" cy="459.22" r="1.15" fill="#a8aec4"/>
<circle cx="151.20" cy="455.55" r="1.15" fill="#a8aec4"/>
<circle cx="153.20" cy="455.25" r="1.15" fill="#a8aec4"/>
<circle cx="148.10" cy="455.98" r="1.15" fill="#a8aec4"/>
<circle cx="173.00" cy="451.86" r="1.15" fill="#a8aec4"/>
<text x="265.30" y="464.50" font-size="7.9" font-style="italic" fill="#222">bilD</text>
<text x="277.00" y="455.60" font-size="7.9" font-style="italic" fill="#222">bilC</text>
<text x="294.10" y="452.80" font-size="7.9" font-style="italic" fill="#222">bilB</text>
<text x="280.60" y="477.70" font-size="7.9" font-style="italic" fill="#222">abiZ</text>
<text x="312.10" y="450.40" font-size="7.9" font-style="italic" fill="#222">REase</text>
<text x="302.00" y="475.40" font-size="7.9" font-style="italic" fill="#222">sanaT</text>
<text x="328.90" y="472.30" font-size="7.9" font-style="italic" fill="#222">sanaA</text>
<text x="364.80" y="447.30" font-size="7.9" font-style="italic" fill="#222">bilA</text>
<text x="338.30" y="443.10" font-size="7.9" font-style="italic" fill="#222">MTase</text>
<text x="355.40" y="467.60" font-size="7.9" font-style="italic" fill="#222">rmrT</text>
<text x="384.30" y="462.40" font-size="7.9" font-style="italic" fill="#222">rmrA</text>
<line x1="280.60" y1="461.80" x2="285.60" y2="463.40" stroke="#222" stroke-width="0.8"/>
<line x1="289.50" y1="457.10" x2="292.60" y2="462.10" stroke="#222" stroke-width="0.8"/>
<line x1="299.60" y1="455.10" x2="300.40" y2="460.90" stroke="#222" stroke-width="0.8"/>
<line x1="294.10" y1="470.70" x2="298.00" y2="464.50" stroke="#222" stroke-width="0.8"/>
<line x1="316.80" y1="452.80" x2="311.30" y2="461.30" stroke="#222" stroke-width="0.8"/>
<line x1="310.20" y1="469.10" x2="311.30" y2="461.30" stroke="#222" stroke-width="0.8"/>
<line x1="338.30" y1="458.20" x2="338.30" y2="466.80" stroke="#222" stroke-width="0.8"/>
<line x1="365.90" y1="448.40" x2="361.70" y2="453.50" stroke="#222" stroke-width="0.8"/>
<line x1="357.80" y1="445.70" x2="358.50" y2="452.80" stroke="#222" stroke-width="0.8"/>
<line x1="353.10" y1="456.70" x2="356.20" y2="462.10" stroke="#222" stroke-width="0.8"/>
<line x1="383.00" y1="451.20" x2="385.80" y2="455.90" stroke="#222" stroke-width="0.8"/>
<circle cx="285.60" cy="464.88" r="1.15" fill="#a8aec4"/>
<circle cx="292.60" cy="463.54" r="1.15" fill="#a8aec4"/>
<circle cx="300.40" cy="462.38" r="1.15" fill="#a8aec4"/>
<circle cx="298.00" cy="462.72" r="1.15" fill="#a8aec4"/>
<circle cx="311.30" cy="460.73" r="1.15" fill="#a8aec4"/>
<circle cx="311.30" cy="460.73" r="1.15" fill="#a8aec4"/>
<circle cx="338.30" cy="457.42" r="1.15" fill="#a8aec4"/>
<circle cx="361.70" cy="454.28" r="1.15" fill="#a8aec4"/>
<circle cx="358.50" cy="454.74" r="1.15" fill="#a8aec4"/>
<circle cx="353.10" cy="455.54" r="1.15" fill="#a8aec4"/>
<circle cx="383.00" cy="450.57" r="1.15" fill="#a8aec4"/>
<text x="480.00" y="462.40" font-size="7.9" font-style="italic" fill="#222">bilD</text>
<text x="491.20" y="453.50" font-size="7.9" font-style="italic" fill="#222">bilC</text>
<text x="507.70" y="454.00" font-size="7.9" font-style="italic" fill="#222">bilB</text>
<text x="496.30" y="478.50" font-size="7.9" font-style="italic" fill="#222">abiZ</text>
<text x="521.30" y="445.30" font-size="7.9" font-style="italic" fill="#222">REase</text>
<text x="517.10" y="475.40" font-size="7.9" font-style="italic" fill="#222">sanaT</text>
<text x="540.50" y="467.10" font-size="7.9" font-style="italic" fill="#222">sanaA</text>
<text x="559.60" y="446.20" font-size="7.9" font-style="italic" fill="#222">bilA</text>
<text x="574.80" y="441.50" font-size="7.9" font-style="italic" fill="#222">MTase</text>
<text x="564.60" y="465.20" font-size="7.9" font-style="italic" fill="#222">rmrT</text>
<text x="594.00" y="461.30" font-size="7.9" font-style="italic" fill="#222">rmrA</text>
<line x1="494.00" y1="460.90" x2="497.40" y2="462.40" stroke="#222" stroke-width="0.8"/>
<line x1="502.60" y1="455.60" x2="503.70" y2="461.80" stroke="#222" stroke-width="0.8"/>
<line x1="509.90" y1="456.20" x2="509.90" y2="461.80" stroke="#222" stroke-width="0.8"/>
<line x1="509.90" y1="471.50" x2="512.00" y2="464.50" stroke="#222" stroke-width="0.8"/>
<line x1="526.00" y1="447.80" x2="526.00" y2="459.00" stroke="#222" stroke-width="0.8"/>
<line x1="527.10" y1="461.80" x2="528.00" y2="469.10" stroke="#222" stroke-width="0.8"/>
<line x1="550.60" y1="457.40" x2="550.60" y2="462.40" stroke="#222" stroke-width="0.8"/>
<line x1="571.70" y1="447.80" x2="574.80" y2="452.00" stroke="#222" stroke-width="0.8"/>
<line x1="581.00" y1="444.20" x2="577.40" y2="453.10" stroke="#222" stroke-width="0.8"/>
<line x1="563.10" y1="455.10" x2="566.20" y2="460.20" stroke="#222" stroke-width="0.8"/>
<line x1="594.00" y1="450.90" x2="596.20" y2="455.60" stroke="#222" stroke-width="0.8"/>
<circle cx="497.40" cy="463.38" r="1.15" fill="#a8aec4"/>
<circle cx="503.70" cy="462.32" r="1.15" fill="#a8aec4"/>
<circle cx="509.90" cy="461.54" r="1.15" fill="#a8aec4"/>
<circle cx="512.00" cy="461.27" r="1.15" fill="#a8aec4"/>
<circle cx="526.00" cy="459.58" r="1.15" fill="#a8aec4"/>
<circle cx="527.10" cy="459.40" r="1.15" fill="#a8aec4"/>
<circle cx="550.60" cy="456.79" r="1.15" fill="#a8aec4"/>
<circle cx="574.80" cy="452.76" r="1.15" fill="#a8aec4"/>
<circle cx="577.40" cy="452.40" r="1.15" fill="#a8aec4"/>
<circle cx="563.10" cy="454.80" r="1.15" fill="#a8aec4"/>
<circle cx="594.00" cy="449.58" r="1.15" fill="#a8aec4"/>
</svg></body></html>
